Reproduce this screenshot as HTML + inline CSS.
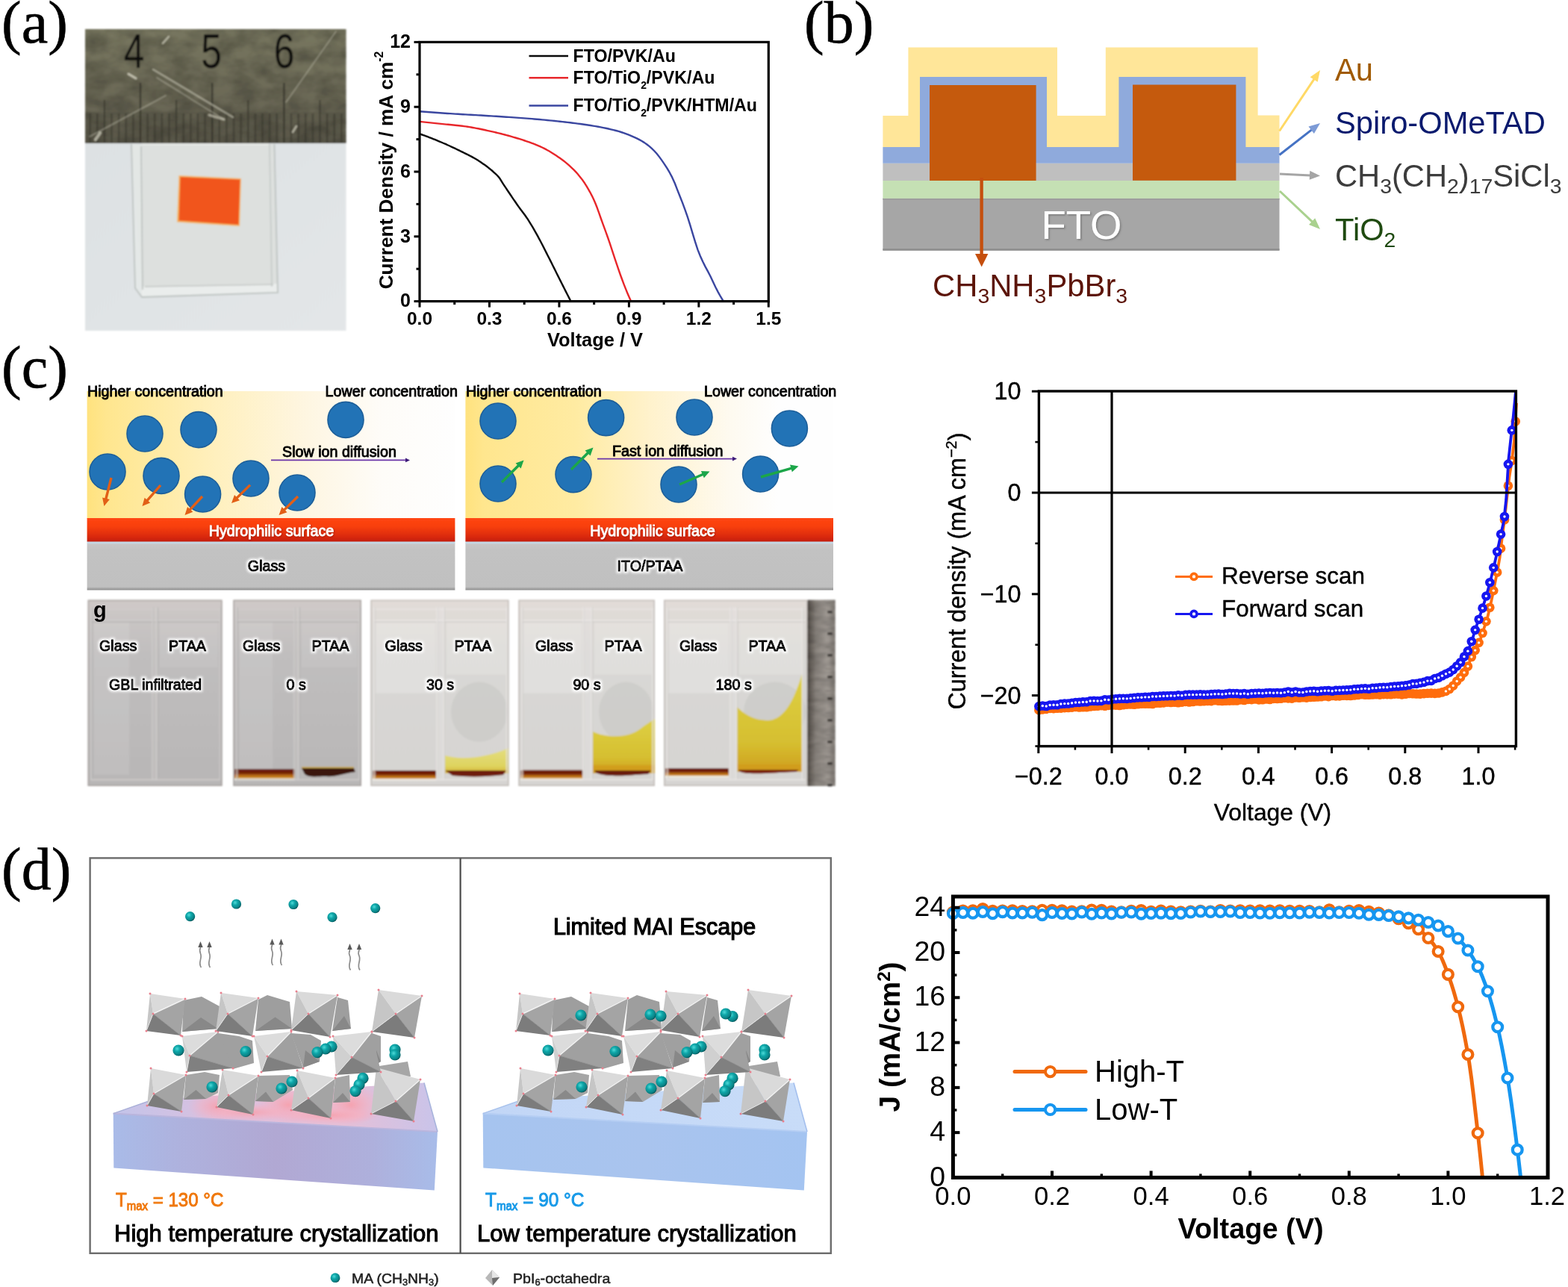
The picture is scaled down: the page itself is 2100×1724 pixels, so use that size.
<!DOCTYPE html>
<html lang="en"><head><meta charset="utf-8"><title>Figure</title>
<style>html,body{margin:0;padding:0;background:#fff}svg{display:block}text{white-space:pre}</style></head>
<body><svg width="2100" height="1724" viewBox="0 0 2100 1724">
<defs>
<filter id="blur05" x="-5%" y="-5%" width="110%" height="110%"><feGaussianBlur stdDeviation="0.6"/></filter>
<filter id="blur1" x="-5%" y="-5%" width="110%" height="110%"><feGaussianBlur stdDeviation="1"/></filter>
<filter id="blur2" x="-5%" y="-5%" width="110%" height="110%"><feGaussianBlur stdDeviation="2"/></filter>
<filter id="blur4" x="-10%" y="-10%" width="120%" height="120%"><feGaussianBlur stdDeviation="4"/></filter>
<filter id="tshadow" x="-5%" y="-30%" width="110%" height="160%"><feDropShadow dx="0.8" dy="1" stdDeviation="0.8" flood-color="#7a1000" flood-opacity="0.55"/></filter>
<filter id="thalo" x="-10%" y="-40%" width="120%" height="180%"><feMorphology in="SourceAlpha" operator="dilate" radius="1.6" result="d"/><feGaussianBlur in="d" stdDeviation="1.4" result="b"/><feFlood flood-color="#fff" flood-opacity="0.95"/><feComposite in2="b" operator="in" result="h"/><feMerge><feMergeNode in="h"/><feMergeNode in="SourceGraphic"/></feMerge></filter>
<filter id="shadowB" x="-10%" y="-20%" width="120%" height="140%"><feDropShadow dx="1.5" dy="1.5" stdDeviation="1.2" flood-color="#555" flood-opacity="0.55"/></filter>
<filter id="noiseA" x="0" y="0" width="100%" height="100%"><feTurbulence type="fractalNoise" baseFrequency="0.035 0.06" numOctaves="3" seed="4"/><feColorMatrix type="matrix" values="0 0 0 0 0  0 0 0 0 0  0 0 0 0 0  1.6 0 0 0 -0.45"/></filter>
<linearGradient id="rulerA" x1="0" y1="0" x2="0" y2="1"><stop offset="0" stop-color="#77765f"/><stop offset="0.45" stop-color="#6f6d59"/><stop offset="1" stop-color="#625f50"/></linearGradient>
<linearGradient id="paperA" x1="0" y1="0" x2="1" y2="1"><stop offset="0" stop-color="#dde1e3"/><stop offset="1" stop-color="#e3e6e8"/></linearGradient>

<linearGradient id="yelL" x1="0" y1="0" x2="1" y2="0"><stop offset="0" stop-color="#ffe27e"/><stop offset="0.05" stop-color="#ffe68e"/><stop offset="0.35" stop-color="#fff0be"/><stop offset="0.6" stop-color="#fef6e2"/><stop offset="0.8" stop-color="#fefcf8"/><stop offset="1" stop-color="#fefefe"/></linearGradient>
<linearGradient id="yelR" x1="0" y1="0" x2="1" y2="0"><stop offset="0" stop-color="#ffe27e"/><stop offset="0.05" stop-color="#ffe68e"/><stop offset="0.3" stop-color="#ffeba2"/><stop offset="0.5" stop-color="#fff2cc"/><stop offset="0.72" stop-color="#fefaf0"/><stop offset="0.85" stop-color="#fefefe"/><stop offset="1" stop-color="#fefefe"/></linearGradient>
<linearGradient id="redbar" x1="0" y1="0" x2="0" y2="1"><stop offset="0" stop-color="#ff4612"/><stop offset="0.35" stop-color="#f83f10"/><stop offset="0.8" stop-color="#d9290c"/><stop offset="1" stop-color="#c31d08"/></linearGradient>
<linearGradient id="greybar" x1="0" y1="0" x2="0" y2="1"><stop offset="0" stop-color="#c9c6c6"/><stop offset="0.15" stop-color="#c2c2c2"/><stop offset="0.93" stop-color="#c0c0c0"/><stop offset="1" stop-color="#8c8c8c"/></linearGradient>
<linearGradient id="tileDark" x1="0" y1="0" x2="0" y2="1"><stop offset="0" stop-color="#d0cac8"/><stop offset="0.12" stop-color="#c8c4c3"/><stop offset="0.3" stop-color="#c0bebe"/><stop offset="1" stop-color="#b8b6b6"/></linearGradient>
<linearGradient id="tileLight" x1="0" y1="0" x2="0" y2="1"><stop offset="0" stop-color="#e2dcd8"/><stop offset="0.12" stop-color="#dedad6"/><stop offset="0.3" stop-color="#d9d8d5"/><stop offset="1" stop-color="#d6d4d2"/></linearGradient>
<linearGradient id="liq" x1="0" y1="0" x2="0" y2="1"><stop offset="0" stop-color="#6a2008"/><stop offset="0.4" stop-color="#701f06"/><stop offset="0.65" stop-color="#b86a16"/><stop offset="1" stop-color="#d49a2a"/></linearGradient>
<linearGradient id="yelPh" x1="0" y1="0" x2="0" y2="1"><stop offset="0" stop-color="#ddd044"/><stop offset="0.7" stop-color="#d6bf30"/><stop offset="1" stop-color="#cf9e1e"/></linearGradient>
<linearGradient id="yelPh3" x1="0" y1="0" x2="0" y2="1"><stop offset="0" stop-color="#e4de7c"/><stop offset="0.7" stop-color="#dfd45a"/><stop offset="1" stop-color="#d6b42a"/></linearGradient>
<linearGradient id="rulerC" x1="0" y1="0" x2="1" y2="0"><stop offset="0" stop-color="#4e4843"/><stop offset="0.12" stop-color="#6a645e"/><stop offset="0.3" stop-color="#8a847e"/><stop offset="0.7" stop-color="#a09a94"/><stop offset="1" stop-color="#8e8882"/></linearGradient>
<filter id="noiseC" x="0" y="0" width="100%" height="100%"><feTurbulence type="fractalNoise" baseFrequency="0.05 0.12" numOctaves="2" seed="7"/><feColorMatrix type="matrix" values="0 0 0 0 0  0 0 0 0 0  0 0 0 0 0  1.4 0 0 0 -0.4"/></filter>

<radialGradient id="teal" cx="0.38" cy="0.36" r="0.7"><stop offset="0" stop-color="#4fdad8"/><stop offset="0.35" stop-color="#10a8aa"/><stop offset="0.8" stop-color="#067e82"/><stop offset="1" stop-color="#023e42"/></radialGradient>
<linearGradient id="slabL" x1="0" y1="0" x2="1" y2="0"><stop offset="0" stop-color="#a9bbe8"/><stop offset="0.2" stop-color="#aeb2de"/><stop offset="0.5" stop-color="#b1a8d3"/><stop offset="0.8" stop-color="#aeb0dc"/><stop offset="1" stop-color="#a8bce9"/></linearGradient>
<linearGradient id="slabR" x1="0" y1="0" x2="1" y2="0"><stop offset="0" stop-color="#a6c4ef"/><stop offset="0.5" stop-color="#a9c4ee"/><stop offset="1" stop-color="#a4c4f1"/></linearGradient>
<linearGradient id="topL" x1="0" y1="0" x2="1" y2="0"><stop offset="0" stop-color="#c3c4ea"/><stop offset="0.35" stop-color="#dcc0de"/><stop offset="0.7" stop-color="#e6bfd6"/><stop offset="1" stop-color="#c9c4ea"/></linearGradient>
<linearGradient id="topR" x1="0" y1="0" x2="1" y2="0"><stop offset="0" stop-color="#c2d6f6"/><stop offset="1" stop-color="#c8dcf8"/></linearGradient>
<radialGradient id="glow" cx="0.5" cy="0.5" r="0.5"><stop offset="0" stop-color="#f7a0ac" stop-opacity="0.9"/><stop offset="0.6" stop-color="#f6b0c0" stop-opacity="0.5"/><stop offset="1" stop-color="#f0b0c8" stop-opacity="0"/></radialGradient>

</defs>
<text x="2" y="57" font-family='"Liberation Serif", serif' font-size="80" fill="#000" stroke="#000" stroke-width="0.55">(a)</text><g filter="url(#blur1)"><rect x="114" y="39" width="349.5" height="153" fill="url(#rulerA)"/><rect x="114" y="39" width="349.5" height="153" fill="#000" filter="url(#noiseA)" opacity="0.26"/><rect x="114" y="192" width="349.5" height="251" fill="url(#paperA)"/><line x1="120.66" y1="152" x2="120.66" y2="192" stroke="#2b2a22" stroke-width="2.6" opacity="0.42"/><line x1="130.28" y1="152" x2="130.28" y2="192" stroke="#2b2a22" stroke-width="2.6" opacity="0.42"/><line x1="139.9" y1="134" x2="139.9" y2="192" stroke="#2b2a22" stroke-width="2" opacity="0.6"/><line x1="149.52" y1="152" x2="149.52" y2="192" stroke="#2b2a22" stroke-width="2.6" opacity="0.42"/><line x1="159.14" y1="152" x2="159.14" y2="192" stroke="#2b2a22" stroke-width="2.6" opacity="0.42"/><line x1="168.76" y1="152" x2="168.76" y2="192" stroke="#2b2a22" stroke-width="2.6" opacity="0.42"/><line x1="178.38" y1="152" x2="178.38" y2="192" stroke="#2b2a22" stroke-width="2.6" opacity="0.42"/><line x1="188" y1="111" x2="188" y2="192" stroke="#2b2a22" stroke-width="2.2" opacity="0.75"/><line x1="197.62" y1="152" x2="197.62" y2="192" stroke="#2b2a22" stroke-width="2.6" opacity="0.42"/><line x1="207.24" y1="152" x2="207.24" y2="192" stroke="#2b2a22" stroke-width="2.6" opacity="0.42"/><line x1="216.86" y1="152" x2="216.86" y2="192" stroke="#2b2a22" stroke-width="2.6" opacity="0.42"/><line x1="226.48" y1="152" x2="226.48" y2="192" stroke="#2b2a22" stroke-width="2.6" opacity="0.42"/><line x1="236.1" y1="134" x2="236.1" y2="192" stroke="#2b2a22" stroke-width="2" opacity="0.6"/><line x1="245.72" y1="152" x2="245.72" y2="192" stroke="#2b2a22" stroke-width="2.6" opacity="0.42"/><line x1="255.34" y1="152" x2="255.34" y2="192" stroke="#2b2a22" stroke-width="2.6" opacity="0.42"/><line x1="264.96" y1="152" x2="264.96" y2="192" stroke="#2b2a22" stroke-width="2.6" opacity="0.42"/><line x1="274.58" y1="152" x2="274.58" y2="192" stroke="#2b2a22" stroke-width="2.6" opacity="0.42"/><line x1="284.2" y1="111" x2="284.2" y2="192" stroke="#2b2a22" stroke-width="2.2" opacity="0.75"/><line x1="293.82" y1="152" x2="293.82" y2="192" stroke="#2b2a22" stroke-width="2.6" opacity="0.42"/><line x1="303.44" y1="152" x2="303.44" y2="192" stroke="#2b2a22" stroke-width="2.6" opacity="0.42"/><line x1="313.06" y1="152" x2="313.06" y2="192" stroke="#2b2a22" stroke-width="2.6" opacity="0.42"/><line x1="322.68" y1="152" x2="322.68" y2="192" stroke="#2b2a22" stroke-width="2.6" opacity="0.42"/><line x1="332.3" y1="134" x2="332.3" y2="192" stroke="#2b2a22" stroke-width="2" opacity="0.6"/><line x1="341.92" y1="152" x2="341.92" y2="192" stroke="#2b2a22" stroke-width="2.6" opacity="0.42"/><line x1="351.54" y1="152" x2="351.54" y2="192" stroke="#2b2a22" stroke-width="2.6" opacity="0.42"/><line x1="361.16" y1="152" x2="361.16" y2="192" stroke="#2b2a22" stroke-width="2.6" opacity="0.42"/><line x1="370.78" y1="152" x2="370.78" y2="192" stroke="#2b2a22" stroke-width="2.6" opacity="0.42"/><line x1="380.4" y1="111" x2="380.4" y2="192" stroke="#2b2a22" stroke-width="2.2" opacity="0.75"/><line x1="390.02" y1="152" x2="390.02" y2="192" stroke="#2b2a22" stroke-width="2.6" opacity="0.42"/><line x1="399.64" y1="152" x2="399.64" y2="192" stroke="#2b2a22" stroke-width="2.6" opacity="0.42"/><line x1="409.26" y1="152" x2="409.26" y2="192" stroke="#2b2a22" stroke-width="2.6" opacity="0.42"/><line x1="418.88" y1="152" x2="418.88" y2="192" stroke="#2b2a22" stroke-width="2.6" opacity="0.42"/><line x1="428.5" y1="134" x2="428.5" y2="192" stroke="#2b2a22" stroke-width="2" opacity="0.6"/><line x1="438.12" y1="152" x2="438.12" y2="192" stroke="#2b2a22" stroke-width="2.6" opacity="0.42"/><line x1="447.74" y1="152" x2="447.74" y2="192" stroke="#2b2a22" stroke-width="2.6" opacity="0.42"/><line x1="457.36" y1="152" x2="457.36" y2="192" stroke="#2b2a22" stroke-width="2.6" opacity="0.42"/><rect x="114" y="150" width="349.5" height="42" fill="#3a352a" opacity="0.18"/><line x1="205" y1="93" x2="312" y2="157" stroke="#d8d6c4" stroke-width="2.2" opacity="0.55" stroke-linecap="round"/><line x1="210" y1="104" x2="300" y2="160" stroke="#d8d6c4" stroke-width="1.5" opacity="0.4" stroke-linecap="round"/><line x1="120" y1="183" x2="222" y2="128" stroke="#d8d6c4" stroke-width="1.6" opacity="0.4" stroke-linecap="round"/><line x1="383" y1="137" x2="450" y2="42" stroke="#d8d6c4" stroke-width="1.4" opacity="0.4" stroke-linecap="round"/><line x1="172" y1="99" x2="182" y2="105" stroke="#d8d6c4" stroke-width="3" opacity="0.8" stroke-linecap="round"/><line x1="218" y1="58" x2="226" y2="49" stroke="#d8d6c4" stroke-width="2.5" opacity="0.7" stroke-linecap="round"/><line x1="392" y1="177" x2="397" y2="169" stroke="#d8d6c4" stroke-width="2.5" opacity="0.7" stroke-linecap="round"/><line x1="128" y1="187" x2="134" y2="178" stroke="#d8d6c4" stroke-width="4" opacity="0.7" stroke-linecap="round"/><line x1="280" y1="154" x2="300" y2="160" stroke="#d8d6c4" stroke-width="3" opacity="0.6" stroke-linecap="round"/><text transform="translate(179.5 91.3) scale(0.76 1)" font-family='"Liberation Sans", sans-serif' font-size="65.5" fill="#0c0c0a" text-anchor="middle">4</text><text transform="translate(283 91.3) scale(0.76 1)" font-family='"Liberation Sans", sans-serif' font-size="65.5" fill="#0c0c0a" text-anchor="middle">5</text><text transform="translate(380.5 91.3) scale(0.76 1)" font-family='"Liberation Sans", sans-serif' font-size="65.5" fill="#0c0c0a" text-anchor="middle">6</text><polygon points="176,193 367.5,193 372,392 190,398" fill="#dce0dd" opacity="0.92"/><polygon points="176,192 190,194 192,392 190,398 181,386" fill="#e6e9e8" opacity="0.7"/><polygon points="190,384 372,380 372,392 190,398" fill="#eef0ef" opacity="0.8"/><path d="M189 196 L191 388" fill="none" stroke="#b9bebc" stroke-width="1.6"/><path d="M176 193 L181 386 L190 398 L372 392 L367.5 193" fill="none" stroke="#bcc2c0" stroke-width="1.8"/><path d="M361 193 L364 384" fill="none" stroke="#c3c8c6" stroke-width="1.5"/><line x1="190" y1="193.5" x2="360" y2="193.5" stroke="#e9ebe7" stroke-width="2.2"/><path d="M194 384 L366 381" fill="none" stroke="#c2c6c4" stroke-width="1.5"/><polygon points="239.5,235 323,239 321,303 237,297.5" fill="#f3b25a"/><polygon points="241.5,237 321.5,240.5 319.5,301 239.5,295.5" fill="#f1541f"/></g><g filter="url(#blur05)"><path d="M562 179.3 L563.7 179.89 L565.4 180.5 L567.1 181.11 L568.8 181.73 L570.5 182.35 L572.2 182.99 L573.9 183.63 L575.6 184.28 L577.3 184.94 L579 185.6 L580.7 186.28 L582.4 186.96 L584.1 187.65 L585.8 188.35 L587.5 189.06 L589.2 189.78 L590.9 190.5 L592.6 191.24 L594.3 191.98 L596 192.72 L597.7 193.47 L599.4 194.23 L601.1 195 L602.8 195.77 L604.5 196.55 L606.2 197.34 L607.9 198.13 L609.6 198.93 L611.3 199.75 L613 200.56 L614.7 201.39 L616.4 202.22 L618.1 203.06 L619.8 203.9 L621.5 204.75 L623.2 205.59 L624.9 206.44 L626.6 207.29 L628.3 208.15 L630 209.03 L631.7 209.93 L633.4 210.85 L635.1 211.8 L636.8 212.78 L638.5 213.8 L640.2 214.85 L641.9 215.94 L643.6 217.06 L645.3 218.21 L647 219.39 L648.7 220.59 L650.4 221.82 L652.1 223.07 L653.8 224.36 L655.5 225.7 L657.2 227.09 L658.9 228.53 L660.6 230.03 L662.3 231.53 L664 233.08 L665.7 234.74 L667.4 236.57 L669.1 238.66 L670.8 241.34 L672.5 244.2 L674.2 246.84 L675.9 249.41 L677.6 251.94 L679.3 254.46 L681 256.98 L682.7 259.51 L684.4 262.03 L686.1 264.55 L687.8 267.05 L689.5 269.54 L691.2 272 L692.9 274.44 L694.6 276.84 L696.3 279.17 L698 281.45 L699.7 283.7 L701.4 285.97 L703.1 288.29 L704.8 290.69 L706.5 293.2 L708.2 295.83 L709.9 298.55 L711.6 301.34 L713.3 304.18 L715 307.09 L716.7 310.07 L718.4 313.1 L720.1 316.18 L721.8 319.33 L723.5 322.53 L725.2 325.78 L726.9 329.07 L728.6 332.39 L730.3 335.73 L732 339.09 L733.7 342.44 L735.4 345.79 L737.1 349.15 L738.8 352.54 L740.5 355.94 L742.2 359.36 L743.9 362.78 L745.6 366.2 L747.3 369.61 L749 373.01 L750.7 376.39 L752.4 379.76 L754.1 383.13 L755.8 386.49 L757.5 389.84 L759.2 393.19 L760.9 396.53 L762.6 399.87 L764.3 403.2" fill="none" stroke="#0a0a0a" stroke-width="2.4" stroke-linejoin="round"/><path d="M562 162.9 L564.38 163.14 L566.76 163.39 L569.13 163.63 L571.51 163.88 L573.89 164.12 L576.27 164.37 L578.65 164.62 L581.03 164.86 L583.4 165.11 L585.78 165.36 L588.16 165.61 L590.54 165.86 L592.92 166.1 L595.29 166.34 L597.67 166.57 L600.05 166.8 L602.43 167.03 L604.81 167.26 L607.18 167.49 L609.56 167.73 L611.94 167.98 L614.32 168.24 L616.7 168.52 L619.08 168.8 L621.45 169.11 L623.83 169.43 L626.21 169.78 L628.59 170.15 L630.97 170.54 L633.34 170.95 L635.72 171.38 L638.1 171.83 L640.48 172.29 L642.86 172.77 L645.24 173.26 L647.61 173.76 L649.99 174.28 L652.37 174.8 L654.75 175.32 L657.13 175.85 L659.5 176.39 L661.88 176.93 L664.26 177.48 L666.64 178.05 L669.02 178.63 L671.39 179.23 L673.77 179.84 L676.15 180.47 L678.53 181.11 L680.91 181.76 L683.29 182.43 L685.66 183.11 L688.04 183.8 L690.42 184.51 L692.8 185.24 L695.18 185.97 L697.55 186.72 L699.93 187.48 L702.31 188.26 L704.69 189.05 L707.07 189.87 L709.45 190.71 L711.82 191.57 L714.2 192.47 L716.58 193.4 L718.96 194.36 L721.34 195.37 L723.71 196.42 L726.09 197.51 L728.47 198.67 L730.85 199.91 L733.23 201.21 L735.61 202.57 L737.98 203.99 L740.36 205.46 L742.74 206.98 L745.12 208.56 L747.5 210.17 L749.87 211.82 L752.25 213.51 L754.63 215.28 L757.01 217.14 L759.39 219.09 L761.76 221.14 L764.14 223.28 L766.52 225.53 L768.9 227.9 L771.28 230.41 L773.66 233.07 L776.03 235.9 L778.41 238.9 L780.79 242.08 L783.17 245.55 L785.55 249.31 L787.92 253.32 L790.3 257.55 L792.68 262.09 L795.06 267.03 L797.44 272.44 L799.82 278.55 L802.19 285.2 L804.57 292 L806.95 298.61 L809.33 305.1 L811.71 311.63 L814.08 318.27 L816.46 325.13 L818.84 332.31 L821.22 339.6 L823.6 346.79 L825.97 353.94 L828.35 360.99 L830.73 367.74 L833.11 374.28 L835.49 380.61 L837.87 386.67 L840.24 392.44 L842.62 397.95 L845 403.2" fill="none" stroke="#e8282c" stroke-width="2.4" stroke-linejoin="round"/><path d="M562 149.3 L565.42 149.55 L568.83 149.8 L572.25 150.05 L575.67 150.3 L579.08 150.54 L582.5 150.77 L585.92 151.01 L589.33 151.24 L592.75 151.48 L596.17 151.71 L599.58 151.93 L603 152.16 L606.42 152.37 L609.84 152.59 L613.25 152.8 L616.67 153 L620.09 153.2 L623.5 153.4 L626.92 153.59 L630.34 153.78 L633.75 153.97 L637.17 154.17 L640.59 154.36 L644 154.56 L647.42 154.76 L650.84 154.97 L654.25 155.18 L657.67 155.39 L661.09 155.6 L664.5 155.81 L667.92 156.02 L671.34 156.24 L674.75 156.46 L678.17 156.68 L681.59 156.9 L685.01 157.13 L688.42 157.37 L691.84 157.6 L695.26 157.85 L698.67 158.1 L702.09 158.36 L705.51 158.62 L708.92 158.89 L712.34 159.17 L715.76 159.46 L719.17 159.75 L722.59 160.05 L726.01 160.36 L729.42 160.67 L732.84 161 L736.26 161.33 L739.67 161.67 L743.09 162.01 L746.51 162.37 L749.92 162.73 L753.34 163.1 L756.76 163.48 L760.17 163.87 L763.59 164.28 L767.01 164.69 L770.43 165.12 L773.84 165.57 L777.26 166.02 L780.68 166.49 L784.09 166.99 L787.51 167.5 L790.93 168.04 L794.34 168.6 L797.76 169.19 L801.18 169.8 L804.59 170.44 L808.01 171.1 L811.43 171.79 L814.84 172.52 L818.26 173.3 L821.68 174.13 L825.09 175.01 L828.51 175.96 L831.93 176.99 L835.34 178.11 L838.76 179.33 L842.18 180.65 L845.59 182.05 L849.01 183.55 L852.43 185.15 L855.85 186.88 L859.26 188.78 L862.68 190.87 L866.1 193.18 L869.51 195.84 L872.93 198.88 L876.35 202.25 L879.76 206 L883.18 210.38 L886.6 215.13 L890.01 220.07 L893.43 225.39 L896.85 231.2 L900.26 237.64 L903.68 245.28 L907.1 254.09 L910.51 262.78 L913.93 271.34 L917.35 280.55 L920.76 290.46 L924.18 301.14 L927.6 312.68 L931.02 323.97 L934.43 334.36 L937.85 342.96 L941.27 350.57 L944.68 357.35 L948.1 363.68 L951.52 370.23 L954.93 377.44 L958.35 384.71 L961.77 391.34 L965.18 397.48 L968.6 403.2" fill="none" stroke="#3a46a0" stroke-width="2.4" stroke-linejoin="round"/><rect x="562" y="56.4" width="467.3" height="347.2" fill="none" stroke="#000" stroke-width="3.2"/><line x1="562" y1="403.6" x2="562" y2="411.6" stroke="#000" stroke-width="3"/><line x1="608.73" y1="403.6" x2="608.73" y2="408.1" stroke="#000" stroke-width="3"/><line x1="655.46" y1="403.6" x2="655.46" y2="411.6" stroke="#000" stroke-width="3"/><line x1="702.19" y1="403.6" x2="702.19" y2="408.1" stroke="#000" stroke-width="3"/><line x1="748.92" y1="403.6" x2="748.92" y2="411.6" stroke="#000" stroke-width="3"/><line x1="795.65" y1="403.6" x2="795.65" y2="408.1" stroke="#000" stroke-width="3"/><line x1="842.38" y1="403.6" x2="842.38" y2="411.6" stroke="#000" stroke-width="3"/><line x1="889.11" y1="403.6" x2="889.11" y2="408.1" stroke="#000" stroke-width="3"/><line x1="935.84" y1="403.6" x2="935.84" y2="411.6" stroke="#000" stroke-width="3"/><line x1="982.57" y1="403.6" x2="982.57" y2="408.1" stroke="#000" stroke-width="3"/><line x1="1029.3" y1="403.6" x2="1029.3" y2="411.6" stroke="#000" stroke-width="3"/><line x1="554.5" y1="403.6" x2="562" y2="403.6" stroke="#000" stroke-width="3"/><line x1="557.5" y1="360.2" x2="562" y2="360.2" stroke="#000" stroke-width="3"/><line x1="554.5" y1="316.8" x2="562" y2="316.8" stroke="#000" stroke-width="3"/><line x1="557.5" y1="273.4" x2="562" y2="273.4" stroke="#000" stroke-width="3"/><line x1="554.5" y1="230" x2="562" y2="230" stroke="#000" stroke-width="3"/><line x1="557.5" y1="186.6" x2="562" y2="186.6" stroke="#000" stroke-width="3"/><line x1="554.5" y1="143.2" x2="562" y2="143.2" stroke="#000" stroke-width="3"/><line x1="557.5" y1="99.8" x2="562" y2="99.8" stroke="#000" stroke-width="3"/><line x1="554.5" y1="56.4" x2="562" y2="56.4" stroke="#000" stroke-width="3"/></g><text x="562" y="435" font-family='"Liberation Sans", sans-serif' font-size="24.5" font-weight="bold" fill="#000" text-anchor="middle">0.0</text><text x="655.46" y="435" font-family='"Liberation Sans", sans-serif' font-size="24.5" font-weight="bold" fill="#000" text-anchor="middle">0.3</text><text x="748.92" y="435" font-family='"Liberation Sans", sans-serif' font-size="24.5" font-weight="bold" fill="#000" text-anchor="middle">0.6</text><text x="842.38" y="435" font-family='"Liberation Sans", sans-serif' font-size="24.5" font-weight="bold" fill="#000" text-anchor="middle">0.9</text><text x="935.84" y="435" font-family='"Liberation Sans", sans-serif' font-size="24.5" font-weight="bold" fill="#000" text-anchor="middle">1.2</text><text x="1029.3" y="435" font-family='"Liberation Sans", sans-serif' font-size="24.5" font-weight="bold" fill="#000" text-anchor="middle">1.5</text><text x="550" y="411.4" font-family='"Liberation Sans", sans-serif' font-size="25" font-weight="bold" fill="#000" text-anchor="end">0</text><text x="550" y="324.6" font-family='"Liberation Sans", sans-serif' font-size="25" font-weight="bold" fill="#000" text-anchor="end">3</text><text x="550" y="237.8" font-family='"Liberation Sans", sans-serif' font-size="25" font-weight="bold" fill="#000" text-anchor="end">6</text><text x="550" y="151" font-family='"Liberation Sans", sans-serif' font-size="25" font-weight="bold" fill="#000" text-anchor="end">9</text><text x="550" y="64.2" font-family='"Liberation Sans", sans-serif' font-size="25" font-weight="bold" fill="#000" text-anchor="end">12</text><text x="797" y="463.5" font-family='"Liberation Sans", sans-serif' font-size="25.4" font-weight="bold" fill="#000" text-anchor="middle">Voltage / V</text><text transform="translate(526 228) rotate(-90)" font-family='"Liberation Sans", sans-serif' font-size="26.2" font-weight="bold" fill="#000" text-anchor="middle">Current Density / mA cm<tspan font-size="60%" dy="-0.85em">-2</tspan></text><line x1="708.5" y1="75" x2="761" y2="75" stroke="#0a0a0a" stroke-width="2.5"/><text x="767.5" y="82.7" font-family='"Liberation Sans", sans-serif' font-size="23.2" font-weight="bold" fill="#000">FTO/PVK/Au</text><line x1="708.5" y1="104.3" x2="761" y2="104.3" stroke="#e8282c" stroke-width="2.5"/><text x="767.5" y="111.7" font-family='"Liberation Sans", sans-serif' font-size="23.2" font-weight="bold" fill="#000">FTO/TiO<tspan font-size="60%" dy="0.5em">2</tspan><tspan dy="-0.3em">/PVK/Au</tspan></text><line x1="708.5" y1="141.4" x2="761" y2="141.4" stroke="#3a46a0" stroke-width="2.5"/><text x="767.5" y="149" font-family='"Liberation Sans", sans-serif' font-size="23.2" font-weight="bold" fill="#000">FTO/TiO<tspan font-size="60%" dy="0.5em">2</tspan><tspan dy="-0.3em">/PVK/HTM/Au</tspan></text>
<text x="1077" y="57" font-family='"Liberation Serif", serif' font-size="80" fill="#000" stroke="#000" stroke-width="0.55">(b)</text><g filter="url(#blur05)"><rect x="1182.4" y="265.6" width="531.1" height="70" fill="#a6a6a6"/><rect x="1182.4" y="265.6" width="531.1" height="2" fill="#9a9a9a"/><rect x="1182.4" y="333" width="531.1" height="2.6" fill="#8f8f8f"/><rect x="1182.4" y="241.8" width="531.1" height="24" fill="#c5e0b4"/><rect x="1182.4" y="218.6" width="531.1" height="23.4" fill="#bfbfbf"/><polygon points="1182.4,155 1216.4,155 1216.4,63.6 1416,63.6 1416,155 1480.8,155 1480.8,63.6 1684.6,63.6 1684.6,154.5 1713.5,154.5 1713.5,197 1182.4,197" fill="#ffe699"/><polygon points="1182.4,197 1232,197 1232,103 1402,103 1402,197 1498.4,197 1498.4,103 1668.4,103 1668.4,197 1713.5,197 1713.5,218.8 1182.4,218.8" fill="#8faadc"/><rect x="1245" y="114" width="142.6" height="128" fill="#c55a11"/><rect x="1517" y="113.5" width="138.4" height="128.3" fill="#c55a11"/><line x1="1314.6" y1="238" x2="1314.6" y2="342" stroke="#c5500f" stroke-width="4.4"/><polygon points="1306,340 1323.4,340 1314.7,357.5" fill="#c5500f"/><line x1="1713.5" y1="175.5" x2="1760.22" y2="105.64" stroke="#ffd966" stroke-width="3"/><polygon points="1768,94 1764.65,109.8 1754.67,103.13" fill="#ffd966"/><line x1="1713.5" y1="207.5" x2="1756.96" y2="173.61" stroke="#4472c4" stroke-width="3"/><polygon points="1768,165 1759.86,178.96 1752.48,169.49" fill="#7d9bd6"/><line x1="1714" y1="233" x2="1755.01" y2="234.9" stroke="#a5a5a5" stroke-width="3"/><polygon points="1768,235.5 1753.74,240.85 1754.29,228.86" fill="#a5a5a5"/><line x1="1714" y1="256" x2="1757.82" y2="297.39" stroke="#a9d18e" stroke-width="3"/><polygon points="1768,307 1752.98,301.06 1761.21,292.34" fill="#a9d18e"/></g><text x="1448.5" y="320" font-family='"Liberation Sans", sans-serif' font-size="54.5" fill="#ffffff" text-anchor="middle" filter="url(#shadowB)">FTO</text><text x="1788" y="108" font-family='"Liberation Sans", sans-serif' font-size="41.7" fill="#a05a00">Au</text><text x="1788" y="179" font-family='"Liberation Sans", sans-serif' font-size="41.7" fill="#0a1a6e">Spiro-OMeTAD</text><text x="1788" y="250" font-family='"Liberation Sans", sans-serif' font-size="41.7" fill="#3c3c3c">CH<tspan font-size="68%" dy="0.32em">3</tspan><tspan dy="-0.218em">(CH</tspan><tspan font-size="68%" dy="0.32em">2</tspan><tspan dy="-0.218em">)</tspan><tspan font-size="68%" dy="0.32em">17</tspan><tspan dy="-0.218em">SiCl</tspan><tspan font-size="68%" dy="0.32em">3</tspan></text><text x="1788" y="322" font-family='"Liberation Sans", sans-serif' font-size="41.7" fill="#1f4a10">TiO<tspan font-size="68%" dy="0.32em">2</tspan></text><text x="1249" y="397" font-family='"Liberation Sans", sans-serif' font-size="41.8" fill="#5c1408">CH<tspan font-size="68%" dy="0.32em">3</tspan><tspan dy="-0.218em">NH</tspan><tspan font-size="68%" dy="0.32em">3</tspan><tspan dy="-0.218em">PbBr</tspan><tspan font-size="68%" dy="0.32em">3</tspan></text>
<text x="2" y="519" font-family='"Liberation Serif", serif' font-size="80" fill="#000" stroke="#000" stroke-width="0.55">(c)</text><g filter="url(#blur05)"><rect x="116.6" y="524" width="492.8" height="171" fill="url(#yelL)"/><rect x="116.6" y="727.5" width="492.8" height="63" fill="url(#greybar)"/><rect x="116.6" y="724.5" width="492.8" height="4" fill="#c4d6e2"/><rect x="116.6" y="694" width="492.8" height="31.5" fill="url(#redbar)"/><rect x="623.4" y="524" width="492.6" height="171" fill="url(#yelR)"/><rect x="623.4" y="727.5" width="492.6" height="63" fill="url(#greybar)"/><rect x="623.4" y="724.5" width="492.6" height="4" fill="#c4d6e2"/><rect x="623.4" y="694" width="492.6" height="31.5" fill="url(#redbar)"/><circle cx="194" cy="581" r="24" fill="#2473b6" stroke="#1d5f9a" stroke-width="1.6"/><circle cx="266" cy="575.6" r="24" fill="#2473b6" stroke="#1d5f9a" stroke-width="1.6"/><circle cx="144" cy="632" r="24" fill="#2473b6" stroke="#1d5f9a" stroke-width="1.6"/><circle cx="216" cy="637.4" r="24" fill="#2473b6" stroke="#1d5f9a" stroke-width="1.6"/><circle cx="271.6" cy="662" r="24" fill="#2473b6" stroke="#1d5f9a" stroke-width="1.6"/><circle cx="336" cy="641" r="24" fill="#2473b6" stroke="#1d5f9a" stroke-width="1.6"/><circle cx="398" cy="660" r="24" fill="#2473b6" stroke="#1d5f9a" stroke-width="1.6"/><circle cx="463" cy="562.4" r="24" fill="#2473b6" stroke="#1d5f9a" stroke-width="1.6"/><circle cx="667" cy="564" r="24" fill="#2473b6" stroke="#1d5f9a" stroke-width="1.6"/><circle cx="667" cy="648" r="24" fill="#2473b6" stroke="#1d5f9a" stroke-width="1.6"/><circle cx="768" cy="635.6" r="24" fill="#2473b6" stroke="#1d5f9a" stroke-width="1.6"/><circle cx="811.6" cy="559.6" r="24" fill="#2473b6" stroke="#1d5f9a" stroke-width="1.6"/><circle cx="930" cy="559" r="24" fill="#2473b6" stroke="#1d5f9a" stroke-width="1.6"/><circle cx="1057.4" cy="574" r="24" fill="#2473b6" stroke="#1d5f9a" stroke-width="1.6"/><circle cx="909" cy="649" r="24" fill="#2473b6" stroke="#1d5f9a" stroke-width="1.6"/><circle cx="1018.6" cy="635" r="24" fill="#2473b6" stroke="#1d5f9a" stroke-width="1.6"/><line x1="149" y1="640" x2="141.73" y2="668.79" stroke="#e25e16" stroke-width="3.4"/><polygon points="139.4,678 137.12,666.6 146.82,669.04" fill="#e25e16"/><line x1="215" y1="650" x2="196.76" y2="670.85" stroke="#e25e16" stroke-width="3.4"/><polygon points="190.5,678 193.65,666.81 201.18,673.39" fill="#e25e16"/><line x1="271" y1="665" x2="254.01" y2="683.08" stroke="#e25e16" stroke-width="3.4"/><polygon points="247.5,690 251.05,678.92 258.33,685.77" fill="#e25e16"/><line x1="335" y1="649.6" x2="316.8" y2="667.36" stroke="#e25e16" stroke-width="3.4"/><polygon points="310,674 314.02,663.09 321.01,670.24" fill="#e25e16"/><line x1="399" y1="665" x2="380.28" y2="683.35" stroke="#e25e16" stroke-width="3.4"/><polygon points="373.5,690 377.5,679.08 384.5,686.22" fill="#e25e16"/><line x1="672" y1="646" x2="694.78" y2="623.22" stroke="#1ca64a" stroke-width="3.4"/><polygon points="701.5,616.5 697.61,627.46 690.54,620.39" fill="#1ca64a"/><line x1="765" y1="629" x2="787.78" y2="606.22" stroke="#1ca64a" stroke-width="3.4"/><polygon points="794.5,599.5 790.61,610.46 783.54,603.39" fill="#1ca64a"/><line x1="910" y1="649" x2="941.78" y2="635.27" stroke="#1ca64a" stroke-width="3.4"/><polygon points="950.5,631.5 942.84,640.25 938.88,631.08" fill="#1ca64a"/><line x1="1019" y1="639" x2="1060.37" y2="627.12" stroke="#1ca64a" stroke-width="3.4"/><polygon points="1069.5,624.5 1060.79,632.2 1058.03,622.59" fill="#1ca64a"/><line x1="363" y1="616.4" x2="546" y2="616.4" stroke="#6a35a8" stroke-width="1.6"/><polygon points="549,616.4 543,613.6 543,619.2" fill="#3c1a78"/><line x1="800" y1="614.6" x2="984" y2="614.6" stroke="#6a35a8" stroke-width="1.6"/><polygon points="987,614.6 981,611.8 981,617.4" fill="#3c1a78"/></g><text x="117" y="531" font-family='"Liberation Sans", sans-serif' font-size="19.7" fill="#000" stroke="#000" stroke-width="0.9">Higher concentration</text><text x="435.6" y="531" font-family='"Liberation Sans", sans-serif' font-size="19.7" fill="#000" stroke="#000" stroke-width="0.9">Lower concentration</text><text x="624" y="531" font-family='"Liberation Sans", sans-serif' font-size="19.7" fill="#000" stroke="#000" stroke-width="0.9">Higher concentration</text><text x="943" y="531" font-family='"Liberation Sans", sans-serif' font-size="19.7" fill="#000" stroke="#000" stroke-width="0.9">Lower concentration</text><text x="378" y="612" font-family='"Liberation Sans", sans-serif' font-size="19.7" fill="#000" stroke="#000" stroke-width="0.9">Slow ion diffusion</text><text x="820" y="611" font-family='"Liberation Sans", sans-serif' font-size="19.7" fill="#000" stroke="#000" stroke-width="0.9">Fast ion diffusion</text><text x="363.5" y="718" font-family='"Liberation Sans", sans-serif' font-size="19.7" fill="#ffffff" text-anchor="middle" stroke="#fff" stroke-width="0.8" filter="url(#tshadow)">Hydrophilic surface</text><text x="874" y="718" font-family='"Liberation Sans", sans-serif' font-size="19.7" fill="#ffffff" text-anchor="middle" stroke="#fff" stroke-width="0.8" filter="url(#tshadow)">Hydrophilic surface</text><text x="357" y="765" font-family='"Liberation Sans", sans-serif' font-size="19.7" fill="#000" text-anchor="middle" stroke="#000" stroke-width="1.3" stroke-linejoin="round" filter="url(#thalo)">Glass</text><text x="870.5" y="765" font-family='"Liberation Sans", sans-serif' font-size="19.7" fill="#000" text-anchor="middle" stroke="#000" stroke-width="1.3" stroke-linejoin="round" filter="url(#thalo)">ITO/PTAA</text><g filter="url(#blur1)"><rect x="117.6" y="803.6" width="180" height="249.4" fill="url(#tileDark)"/><rect x="125.6" y="833.6" width="47.52" height="204.4" fill="#ffffff" opacity="0.10"/><rect x="214" y="833.6" width="77.6" height="60" fill="#ffffff" opacity="0.08"/><rect x="118.4" y="804.4" width="178.4" height="247.8" fill="none" stroke="#a29c9a" stroke-width="1.6" opacity="0.8"/><rect x="312.4" y="803.6" width="171.6" height="249.4" fill="url(#tileDark)"/><rect x="320.4" y="833.6" width="44.88" height="204.4" fill="#ffffff" opacity="0.10"/><rect x="404" y="833.6" width="74" height="60" fill="#ffffff" opacity="0.08"/><rect x="313.2" y="804.4" width="170" height="247.8" fill="none" stroke="#a29c9a" stroke-width="1.6" opacity="0.8"/><rect x="496.4" y="803.6" width="185.2" height="249.4" fill="url(#tileLight)"/><rect x="502.4" y="833.6" width="80.6" height="95" fill="#ffffff" opacity="0.22"/><rect x="598" y="833.6" width="79.6" height="70" fill="#ffffff" opacity="0.18"/><ellipse cx="641.8" cy="953.6" rx="37.8" ry="40" fill="#bdbcbb" opacity="0.35"/><rect x="497.2" y="804.4" width="183.6" height="247.8" fill="none" stroke="#bdb6b2" stroke-width="1.6" opacity="0.8"/><rect x="694.4" y="803.6" width="182.6" height="249.4" fill="url(#tileLight)"/><rect x="700.4" y="833.6" width="78.6" height="95" fill="#ffffff" opacity="0.22"/><rect x="796" y="833.6" width="77" height="70" fill="#ffffff" opacity="0.18"/><ellipse cx="838.5" cy="953.6" rx="36.5" ry="40" fill="#bdbcbb" opacity="0.35"/><rect x="695.2" y="804.4" width="181" height="247.8" fill="none" stroke="#bdb6b2" stroke-width="1.6" opacity="0.8"/><rect x="889" y="803.6" width="192.5" height="249.4" fill="url(#tileLight)"/><rect x="895" y="833.6" width="81" height="95" fill="#ffffff" opacity="0.22"/><rect x="990" y="833.6" width="87.5" height="70" fill="#ffffff" opacity="0.18"/><ellipse cx="1037.75" cy="953.6" rx="41.75" ry="40" fill="#bdbcbb" opacity="0.35"/><rect x="889.8" y="804.4" width="190.9" height="247.8" fill="none" stroke="#bdb6b2" stroke-width="1.6" opacity="0.8"/><path d="M596 1012 C615 1018 650 1016 681 1002 L681 1036 L596 1036 Z" fill="url(#yelPh3)" opacity="0.95"/><path d="M794 980 C810 988 840 990 858 976 C866 970 872 966 877 963 L877 1036 L794 1036 Z" fill="url(#yelPh)"/><path d="M987 947 C998 958 1012 965 1028 965 C1046 965 1058 946 1066 926 C1070 916 1072 910 1074 903 L1074 1034 L987 1034 Z" fill="url(#yelPh)"/><rect x="314" y="1030" width="81" height="13.5" fill="url(#liq)" rx="2"/><rect x="314" y="1042.5" width="81" height="3" fill="#f3efe6" opacity="0.8"/><rect x="499" y="1032" width="85" height="12" fill="url(#liq)" rx="2"/><rect x="499" y="1043" width="85" height="3" fill="#f3efe6" opacity="0.8"/><rect x="697" y="1031.5" width="83.5" height="12" fill="url(#liq)" rx="2"/><rect x="697" y="1042.5" width="83.5" height="3" fill="#f3efe6" opacity="0.8"/><rect x="891" y="1029" width="85" height="11" fill="url(#liq)" rx="2"/><rect x="891" y="1039" width="85" height="3" fill="#f3efe6" opacity="0.8"/><path d="M404 1029 L474 1029 L476 1034 C460 1036 450 1041 436 1040 C424 1040 414 1042 408 1037 Z" fill="#3a1408"/><line x1="404" y1="1028" x2="474" y2="1028" stroke="#c9a030" stroke-width="1.6"/><path d="M596 1032 L678 1032 L674 1038 C650 1041 626 1041 606 1039 Z" fill="#6e1c08"/><path d="M796 1032 L872 1032 L868 1037 C846 1038 836 1040 820 1039 C810 1039 802 1037 798 1035 Z" fill="#6a1a08"/><path d="M989 1031 L1070 1031 L1066 1034 C1040 1035 1020 1037 1004 1036 C996 1036 992 1034 990 1033 Z" fill="#7a2208"/><rect x="794" y="1025" width="83" height="7" fill="#d29a1c" opacity="0.7"/><rect x="987" y="1024" width="86" height="7" fill="#d29a1c" opacity="0.7"/><line x1="121.6" y1="816.1" x2="294.6" y2="816.1" stroke="#d0cdcc" stroke-width="1.6" opacity="0.8"/><line x1="121.6" y1="831.1" x2="294.6" y2="831.1" stroke="#d0cdcc" stroke-width="2.2" opacity="0.9"/><line x1="121.6" y1="833.1" x2="294.6" y2="833.1" stroke="#a9a7a7" stroke-width="1.2" opacity="0.7"/><line x1="122.1" y1="813.6" x2="122.1" y2="1045" stroke="#d0cdcc" stroke-width="1.6" opacity="0.85"/><line x1="123.7" y1="813.6" x2="123.7" y2="1045" stroke="#a9a7a7" stroke-width="1.1" opacity="0.6"/><line x1="204" y1="813.6" x2="204" y2="1045" stroke="#d0cdcc" stroke-width="1.6" opacity="0.85"/><line x1="205.6" y1="813.6" x2="205.6" y2="1045" stroke="#a9a7a7" stroke-width="1.1" opacity="0.6"/><line x1="210" y1="813.6" x2="210" y2="1045" stroke="#d0cdcc" stroke-width="1.6" opacity="0.85"/><line x1="211.6" y1="813.6" x2="211.6" y2="1045" stroke="#a9a7a7" stroke-width="1.1" opacity="0.6"/><line x1="294.6" y1="813.6" x2="294.6" y2="1045" stroke="#d0cdcc" stroke-width="1.6" opacity="0.85"/><line x1="296.2" y1="813.6" x2="296.2" y2="1045" stroke="#a9a7a7" stroke-width="1.1" opacity="0.6"/><rect x="205" y="813.6" width="5" height="231.4" fill="#d0cdcc" opacity="0.35"/><line x1="121.6" y1="1044.5" x2="294.6" y2="1044.5" stroke="#d0cdcc" stroke-width="1.8" opacity="0.85"/><line x1="316.4" y1="816.1" x2="481" y2="816.1" stroke="#d0cdcc" stroke-width="1.6" opacity="0.8"/><line x1="316.4" y1="831.1" x2="481" y2="831.1" stroke="#d0cdcc" stroke-width="2.2" opacity="0.9"/><line x1="316.4" y1="833.1" x2="481" y2="833.1" stroke="#a9a7a7" stroke-width="1.2" opacity="0.7"/><line x1="316.9" y1="813.6" x2="316.9" y2="1045" stroke="#d0cdcc" stroke-width="1.6" opacity="0.85"/><line x1="318.5" y1="813.6" x2="318.5" y2="1045" stroke="#a9a7a7" stroke-width="1.1" opacity="0.6"/><line x1="394" y1="813.6" x2="394" y2="1045" stroke="#d0cdcc" stroke-width="1.6" opacity="0.85"/><line x1="395.6" y1="813.6" x2="395.6" y2="1045" stroke="#a9a7a7" stroke-width="1.1" opacity="0.6"/><line x1="400" y1="813.6" x2="400" y2="1045" stroke="#d0cdcc" stroke-width="1.6" opacity="0.85"/><line x1="401.6" y1="813.6" x2="401.6" y2="1045" stroke="#a9a7a7" stroke-width="1.1" opacity="0.6"/><line x1="481" y1="813.6" x2="481" y2="1045" stroke="#d0cdcc" stroke-width="1.6" opacity="0.85"/><line x1="482.6" y1="813.6" x2="482.6" y2="1045" stroke="#a9a7a7" stroke-width="1.1" opacity="0.6"/><rect x="395" y="813.6" width="5" height="231.4" fill="#d0cdcc" opacity="0.35"/><line x1="316.4" y1="1044.5" x2="481" y2="1044.5" stroke="#d0cdcc" stroke-width="1.8" opacity="0.85"/><line x1="500.4" y1="816.1" x2="678.6" y2="816.1" stroke="#e9e6e4" stroke-width="1.6" opacity="0.8"/><line x1="500.4" y1="831.1" x2="678.6" y2="831.1" stroke="#e9e6e4" stroke-width="2.2" opacity="0.9"/><line x1="500.4" y1="833.1" x2="678.6" y2="833.1" stroke="#c9c6c4" stroke-width="1.2" opacity="0.7"/><line x1="500.9" y1="813.6" x2="500.9" y2="1045" stroke="#e9e6e4" stroke-width="1.6" opacity="0.85"/><line x1="502.5" y1="813.6" x2="502.5" y2="1045" stroke="#c9c6c4" stroke-width="1.1" opacity="0.6"/><line x1="585" y1="813.6" x2="585" y2="1045" stroke="#e9e6e4" stroke-width="1.6" opacity="0.85"/><line x1="586.6" y1="813.6" x2="586.6" y2="1045" stroke="#c9c6c4" stroke-width="1.1" opacity="0.6"/><line x1="594" y1="813.6" x2="594" y2="1045" stroke="#e9e6e4" stroke-width="1.6" opacity="0.85"/><line x1="595.6" y1="813.6" x2="595.6" y2="1045" stroke="#c9c6c4" stroke-width="1.1" opacity="0.6"/><line x1="678.6" y1="813.6" x2="678.6" y2="1045" stroke="#e9e6e4" stroke-width="1.6" opacity="0.85"/><line x1="680.2" y1="813.6" x2="680.2" y2="1045" stroke="#c9c6c4" stroke-width="1.1" opacity="0.6"/><rect x="586" y="813.6" width="8" height="231.4" fill="#e9e6e4" opacity="0.35"/><line x1="500.4" y1="1044.5" x2="678.6" y2="1044.5" stroke="#e9e6e4" stroke-width="1.8" opacity="0.85"/><line x1="698.4" y1="816.1" x2="874" y2="816.1" stroke="#e9e6e4" stroke-width="1.6" opacity="0.8"/><line x1="698.4" y1="831.1" x2="874" y2="831.1" stroke="#e9e6e4" stroke-width="2.2" opacity="0.9"/><line x1="698.4" y1="833.1" x2="874" y2="833.1" stroke="#c9c6c4" stroke-width="1.2" opacity="0.7"/><line x1="698.9" y1="813.6" x2="698.9" y2="1045" stroke="#e9e6e4" stroke-width="1.6" opacity="0.85"/><line x1="700.5" y1="813.6" x2="700.5" y2="1045" stroke="#c9c6c4" stroke-width="1.1" opacity="0.6"/><line x1="781" y1="813.6" x2="781" y2="1045" stroke="#e9e6e4" stroke-width="1.6" opacity="0.85"/><line x1="782.6" y1="813.6" x2="782.6" y2="1045" stroke="#c9c6c4" stroke-width="1.1" opacity="0.6"/><line x1="792" y1="813.6" x2="792" y2="1045" stroke="#e9e6e4" stroke-width="1.6" opacity="0.85"/><line x1="793.6" y1="813.6" x2="793.6" y2="1045" stroke="#c9c6c4" stroke-width="1.1" opacity="0.6"/><line x1="874" y1="813.6" x2="874" y2="1045" stroke="#e9e6e4" stroke-width="1.6" opacity="0.85"/><line x1="875.6" y1="813.6" x2="875.6" y2="1045" stroke="#c9c6c4" stroke-width="1.1" opacity="0.6"/><rect x="782" y="813.6" width="10" height="231.4" fill="#e9e6e4" opacity="0.35"/><line x1="698.4" y1="1044.5" x2="874" y2="1044.5" stroke="#e9e6e4" stroke-width="1.8" opacity="0.85"/><line x1="893" y1="816.1" x2="1078.5" y2="816.1" stroke="#e9e6e4" stroke-width="1.6" opacity="0.8"/><line x1="893" y1="831.1" x2="1078.5" y2="831.1" stroke="#e9e6e4" stroke-width="2.2" opacity="0.9"/><line x1="893" y1="833.1" x2="1078.5" y2="833.1" stroke="#c9c6c4" stroke-width="1.2" opacity="0.7"/><line x1="893.5" y1="813.6" x2="893.5" y2="1045" stroke="#e9e6e4" stroke-width="1.6" opacity="0.85"/><line x1="895.1" y1="813.6" x2="895.1" y2="1045" stroke="#c9c6c4" stroke-width="1.1" opacity="0.6"/><line x1="978" y1="813.6" x2="978" y2="1045" stroke="#e9e6e4" stroke-width="1.6" opacity="0.85"/><line x1="979.6" y1="813.6" x2="979.6" y2="1045" stroke="#c9c6c4" stroke-width="1.1" opacity="0.6"/><line x1="986" y1="813.6" x2="986" y2="1045" stroke="#e9e6e4" stroke-width="1.6" opacity="0.85"/><line x1="987.6" y1="813.6" x2="987.6" y2="1045" stroke="#c9c6c4" stroke-width="1.1" opacity="0.6"/><line x1="1074.5" y1="813.6" x2="1074.5" y2="1045" stroke="#e9e6e4" stroke-width="1.6" opacity="0.85"/><line x1="1076.1" y1="813.6" x2="1076.1" y2="1045" stroke="#c9c6c4" stroke-width="1.1" opacity="0.6"/><rect x="979" y="813.6" width="7" height="231.4" fill="#e9e6e4" opacity="0.35"/><line x1="893" y1="1044.5" x2="1078.5" y2="1044.5" stroke="#e9e6e4" stroke-width="1.8" opacity="0.85"/><rect x="1081.5" y="803.6" width="37.1" height="249.4" fill="url(#rulerC)"/><rect x="1081.5" y="803.6" width="37.1" height="249.4" fill="#000" filter="url(#noiseC)" opacity="0.22"/><line x1="1105.6" y1="807.6" x2="1118.6" y2="807.6" stroke="#3c3834" stroke-width="0.9" opacity="0.35"/><line x1="1112.6" y1="810.55" x2="1118.6" y2="810.55" stroke="#3c3834" stroke-width="0.9" opacity="0.35"/><line x1="1112.6" y1="813.5" x2="1118.6" y2="813.5" stroke="#3c3834" stroke-width="0.9" opacity="0.35"/><line x1="1112.6" y1="816.45" x2="1118.6" y2="816.45" stroke="#3c3834" stroke-width="0.9" opacity="0.35"/><line x1="1112.6" y1="819.4" x2="1118.6" y2="819.4" stroke="#3c3834" stroke-width="0.9" opacity="0.35"/><line x1="1112.6" y1="822.35" x2="1118.6" y2="822.35" stroke="#3c3834" stroke-width="0.9" opacity="0.35"/><line x1="1112.6" y1="825.3" x2="1118.6" y2="825.3" stroke="#3c3834" stroke-width="0.9" opacity="0.35"/><line x1="1112.6" y1="828.25" x2="1118.6" y2="828.25" stroke="#3c3834" stroke-width="0.9" opacity="0.35"/><line x1="1112.6" y1="831.2" x2="1118.6" y2="831.2" stroke="#3c3834" stroke-width="0.9" opacity="0.35"/><line x1="1112.6" y1="834.15" x2="1118.6" y2="834.15" stroke="#3c3834" stroke-width="0.9" opacity="0.35"/><line x1="1105.6" y1="837.1" x2="1118.6" y2="837.1" stroke="#3c3834" stroke-width="0.9" opacity="0.35"/><line x1="1112.6" y1="840.05" x2="1118.6" y2="840.05" stroke="#3c3834" stroke-width="0.9" opacity="0.35"/><line x1="1112.6" y1="843" x2="1118.6" y2="843" stroke="#3c3834" stroke-width="0.9" opacity="0.35"/><line x1="1112.6" y1="845.95" x2="1118.6" y2="845.95" stroke="#3c3834" stroke-width="0.9" opacity="0.35"/><line x1="1112.6" y1="848.9" x2="1118.6" y2="848.9" stroke="#3c3834" stroke-width="0.9" opacity="0.35"/><line x1="1112.6" y1="851.85" x2="1118.6" y2="851.85" stroke="#3c3834" stroke-width="0.9" opacity="0.35"/><line x1="1112.6" y1="854.8" x2="1118.6" y2="854.8" stroke="#3c3834" stroke-width="0.9" opacity="0.35"/><line x1="1112.6" y1="857.75" x2="1118.6" y2="857.75" stroke="#3c3834" stroke-width="0.9" opacity="0.35"/><line x1="1112.6" y1="860.7" x2="1118.6" y2="860.7" stroke="#3c3834" stroke-width="0.9" opacity="0.35"/><line x1="1112.6" y1="863.65" x2="1118.6" y2="863.65" stroke="#3c3834" stroke-width="0.9" opacity="0.35"/><line x1="1105.6" y1="866.6" x2="1118.6" y2="866.6" stroke="#3c3834" stroke-width="0.9" opacity="0.35"/><line x1="1112.6" y1="869.55" x2="1118.6" y2="869.55" stroke="#3c3834" stroke-width="0.9" opacity="0.35"/><line x1="1112.6" y1="872.5" x2="1118.6" y2="872.5" stroke="#3c3834" stroke-width="0.9" opacity="0.35"/><line x1="1112.6" y1="875.45" x2="1118.6" y2="875.45" stroke="#3c3834" stroke-width="0.9" opacity="0.35"/><line x1="1112.6" y1="878.4" x2="1118.6" y2="878.4" stroke="#3c3834" stroke-width="0.9" opacity="0.35"/><line x1="1112.6" y1="881.35" x2="1118.6" y2="881.35" stroke="#3c3834" stroke-width="0.9" opacity="0.35"/><line x1="1112.6" y1="884.3" x2="1118.6" y2="884.3" stroke="#3c3834" stroke-width="0.9" opacity="0.35"/><line x1="1112.6" y1="887.25" x2="1118.6" y2="887.25" stroke="#3c3834" stroke-width="0.9" opacity="0.35"/><line x1="1112.6" y1="890.2" x2="1118.6" y2="890.2" stroke="#3c3834" stroke-width="0.9" opacity="0.35"/><line x1="1112.6" y1="893.15" x2="1118.6" y2="893.15" stroke="#3c3834" stroke-width="0.9" opacity="0.35"/><line x1="1105.6" y1="896.1" x2="1118.6" y2="896.1" stroke="#3c3834" stroke-width="0.9" opacity="0.35"/><line x1="1112.6" y1="899.05" x2="1118.6" y2="899.05" stroke="#3c3834" stroke-width="0.9" opacity="0.35"/><line x1="1112.6" y1="902" x2="1118.6" y2="902" stroke="#3c3834" stroke-width="0.9" opacity="0.35"/><line x1="1112.6" y1="904.95" x2="1118.6" y2="904.95" stroke="#3c3834" stroke-width="0.9" opacity="0.35"/><line x1="1112.6" y1="907.9" x2="1118.6" y2="907.9" stroke="#3c3834" stroke-width="0.9" opacity="0.35"/><line x1="1112.6" y1="910.85" x2="1118.6" y2="910.85" stroke="#3c3834" stroke-width="0.9" opacity="0.35"/><line x1="1112.6" y1="913.8" x2="1118.6" y2="913.8" stroke="#3c3834" stroke-width="0.9" opacity="0.35"/><line x1="1112.6" y1="916.75" x2="1118.6" y2="916.75" stroke="#3c3834" stroke-width="0.9" opacity="0.35"/><line x1="1112.6" y1="919.7" x2="1118.6" y2="919.7" stroke="#3c3834" stroke-width="0.9" opacity="0.35"/><line x1="1112.6" y1="922.65" x2="1118.6" y2="922.65" stroke="#3c3834" stroke-width="0.9" opacity="0.35"/><line x1="1105.6" y1="925.6" x2="1118.6" y2="925.6" stroke="#3c3834" stroke-width="0.9" opacity="0.35"/><line x1="1112.6" y1="928.55" x2="1118.6" y2="928.55" stroke="#3c3834" stroke-width="0.9" opacity="0.35"/><line x1="1112.6" y1="931.5" x2="1118.6" y2="931.5" stroke="#3c3834" stroke-width="0.9" opacity="0.35"/><line x1="1112.6" y1="934.45" x2="1118.6" y2="934.45" stroke="#3c3834" stroke-width="0.9" opacity="0.35"/><line x1="1112.6" y1="937.4" x2="1118.6" y2="937.4" stroke="#3c3834" stroke-width="0.9" opacity="0.35"/><line x1="1112.6" y1="940.35" x2="1118.6" y2="940.35" stroke="#3c3834" stroke-width="0.9" opacity="0.35"/><line x1="1112.6" y1="943.3" x2="1118.6" y2="943.3" stroke="#3c3834" stroke-width="0.9" opacity="0.35"/><line x1="1112.6" y1="946.25" x2="1118.6" y2="946.25" stroke="#3c3834" stroke-width="0.9" opacity="0.35"/><line x1="1112.6" y1="949.2" x2="1118.6" y2="949.2" stroke="#3c3834" stroke-width="0.9" opacity="0.35"/><line x1="1112.6" y1="952.15" x2="1118.6" y2="952.15" stroke="#3c3834" stroke-width="0.9" opacity="0.35"/><line x1="1105.6" y1="955.1" x2="1118.6" y2="955.1" stroke="#3c3834" stroke-width="0.9" opacity="0.35"/><line x1="1112.6" y1="958.05" x2="1118.6" y2="958.05" stroke="#3c3834" stroke-width="0.9" opacity="0.35"/><line x1="1112.6" y1="961" x2="1118.6" y2="961" stroke="#3c3834" stroke-width="0.9" opacity="0.35"/><line x1="1112.6" y1="963.95" x2="1118.6" y2="963.95" stroke="#3c3834" stroke-width="0.9" opacity="0.35"/><line x1="1112.6" y1="966.9" x2="1118.6" y2="966.9" stroke="#3c3834" stroke-width="0.9" opacity="0.35"/><line x1="1112.6" y1="969.85" x2="1118.6" y2="969.85" stroke="#3c3834" stroke-width="0.9" opacity="0.35"/><line x1="1112.6" y1="972.8" x2="1118.6" y2="972.8" stroke="#3c3834" stroke-width="0.9" opacity="0.35"/><line x1="1112.6" y1="975.75" x2="1118.6" y2="975.75" stroke="#3c3834" stroke-width="0.9" opacity="0.35"/><line x1="1112.6" y1="978.7" x2="1118.6" y2="978.7" stroke="#3c3834" stroke-width="0.9" opacity="0.35"/><line x1="1112.6" y1="981.65" x2="1118.6" y2="981.65" stroke="#3c3834" stroke-width="0.9" opacity="0.35"/><line x1="1105.6" y1="984.6" x2="1118.6" y2="984.6" stroke="#3c3834" stroke-width="0.9" opacity="0.35"/><line x1="1112.6" y1="987.55" x2="1118.6" y2="987.55" stroke="#3c3834" stroke-width="0.9" opacity="0.35"/><line x1="1112.6" y1="990.5" x2="1118.6" y2="990.5" stroke="#3c3834" stroke-width="0.9" opacity="0.35"/><line x1="1112.6" y1="993.45" x2="1118.6" y2="993.45" stroke="#3c3834" stroke-width="0.9" opacity="0.35"/><line x1="1112.6" y1="996.4" x2="1118.6" y2="996.4" stroke="#3c3834" stroke-width="0.9" opacity="0.35"/><line x1="1112.6" y1="999.35" x2="1118.6" y2="999.35" stroke="#3c3834" stroke-width="0.9" opacity="0.35"/><line x1="1112.6" y1="1002.3" x2="1118.6" y2="1002.3" stroke="#3c3834" stroke-width="0.9" opacity="0.35"/><line x1="1112.6" y1="1005.25" x2="1118.6" y2="1005.25" stroke="#3c3834" stroke-width="0.9" opacity="0.35"/><line x1="1112.6" y1="1008.2" x2="1118.6" y2="1008.2" stroke="#3c3834" stroke-width="0.9" opacity="0.35"/><line x1="1112.6" y1="1011.15" x2="1118.6" y2="1011.15" stroke="#3c3834" stroke-width="0.9" opacity="0.35"/><line x1="1105.6" y1="1014.1" x2="1118.6" y2="1014.1" stroke="#3c3834" stroke-width="0.9" opacity="0.35"/><line x1="1112.6" y1="1017.05" x2="1118.6" y2="1017.05" stroke="#3c3834" stroke-width="0.9" opacity="0.35"/><line x1="1112.6" y1="1020" x2="1118.6" y2="1020" stroke="#3c3834" stroke-width="0.9" opacity="0.35"/><line x1="1112.6" y1="1022.95" x2="1118.6" y2="1022.95" stroke="#3c3834" stroke-width="0.9" opacity="0.35"/><line x1="1112.6" y1="1025.9" x2="1118.6" y2="1025.9" stroke="#3c3834" stroke-width="0.9" opacity="0.35"/><line x1="1112.6" y1="1028.85" x2="1118.6" y2="1028.85" stroke="#3c3834" stroke-width="0.9" opacity="0.35"/><line x1="1112.6" y1="1031.8" x2="1118.6" y2="1031.8" stroke="#3c3834" stroke-width="0.9" opacity="0.35"/><line x1="1112.6" y1="1034.75" x2="1118.6" y2="1034.75" stroke="#3c3834" stroke-width="0.9" opacity="0.35"/><line x1="1112.6" y1="1037.7" x2="1118.6" y2="1037.7" stroke="#3c3834" stroke-width="0.9" opacity="0.35"/><line x1="1112.6" y1="1040.65" x2="1118.6" y2="1040.65" stroke="#3c3834" stroke-width="0.9" opacity="0.35"/><line x1="1105.6" y1="1043.6" x2="1118.6" y2="1043.6" stroke="#3c3834" stroke-width="0.9" opacity="0.35"/><line x1="1112.6" y1="1046.55" x2="1118.6" y2="1046.55" stroke="#3c3834" stroke-width="0.9" opacity="0.35"/><line x1="1112.6" y1="1049.5" x2="1118.6" y2="1049.5" stroke="#3c3834" stroke-width="0.9" opacity="0.35"/><rect x="1108" y="818" width="7" height="3.6" fill="#1f1c1a" opacity="0.7" rx="1.5"/><rect x="1108" y="847" width="7" height="3.6" fill="#1f1c1a" opacity="0.7" rx="1.5"/><rect x="1108" y="876" width="7" height="3.6" fill="#1f1c1a" opacity="0.7" rx="1.5"/><rect x="1108" y="905" width="7" height="3.6" fill="#1f1c1a" opacity="0.7" rx="1.5"/><rect x="1108" y="934" width="7" height="3.6" fill="#1f1c1a" opacity="0.7" rx="1.5"/><rect x="1108" y="963" width="7" height="3.6" fill="#1f1c1a" opacity="0.7" rx="1.5"/><rect x="1108" y="992" width="7" height="3.6" fill="#1f1c1a" opacity="0.7" rx="1.5"/><rect x="1108" y="1021" width="7" height="3.6" fill="#1f1c1a" opacity="0.7" rx="1.5"/><rect x="1108" y="1050" width="7" height="3.6" fill="#1f1c1a" opacity="0.7" rx="1.5"/></g><text x="125" y="827" font-family='"Liberation Sans", sans-serif' font-size="29" font-weight="bold" fill="#000">g</text><text x="133" y="871.6" font-family='"Liberation Sans", sans-serif' font-size="19.7" fill="#000" stroke="#000" stroke-width="1.3" stroke-linejoin="round" filter="url(#thalo)">Glass</text><text x="226" y="871.6" font-family='"Liberation Sans", sans-serif' font-size="19.7" fill="#000" stroke="#000" stroke-width="1.3" stroke-linejoin="round" filter="url(#thalo)">PTAA</text><text x="146" y="923.6" font-family='"Liberation Sans", sans-serif' font-size="19.7" fill="#000" stroke="#000" stroke-width="1.3" stroke-linejoin="round" filter="url(#thalo)">GBL infiltrated</text><text x="325" y="871.6" font-family='"Liberation Sans", sans-serif' font-size="19.7" fill="#000" stroke="#000" stroke-width="1.3" stroke-linejoin="round" filter="url(#thalo)">Glass</text><text x="417.6" y="871.6" font-family='"Liberation Sans", sans-serif' font-size="19.7" fill="#000" stroke="#000" stroke-width="1.3" stroke-linejoin="round" filter="url(#thalo)">PTAA</text><text x="383.6" y="923.6" font-family='"Liberation Sans", sans-serif' font-size="19.7" fill="#000" stroke="#000" stroke-width="1.3" stroke-linejoin="round" filter="url(#thalo)">0 s</text><text x="515.6" y="871.6" font-family='"Liberation Sans", sans-serif' font-size="19.7" fill="#000" stroke="#000" stroke-width="1.3" stroke-linejoin="round" filter="url(#thalo)">Glass</text><text x="608.4" y="871.6" font-family='"Liberation Sans", sans-serif' font-size="19.7" fill="#000" stroke="#000" stroke-width="1.3" stroke-linejoin="round" filter="url(#thalo)">PTAA</text><text x="571" y="923.6" font-family='"Liberation Sans", sans-serif' font-size="19.7" fill="#000" stroke="#000" stroke-width="1.3" stroke-linejoin="round" filter="url(#thalo)">30 s</text><text x="717" y="871.6" font-family='"Liberation Sans", sans-serif' font-size="19.7" fill="#000" stroke="#000" stroke-width="1.3" stroke-linejoin="round" filter="url(#thalo)">Glass</text><text x="809.6" y="871.6" font-family='"Liberation Sans", sans-serif' font-size="19.7" fill="#000" stroke="#000" stroke-width="1.3" stroke-linejoin="round" filter="url(#thalo)">PTAA</text><text x="767.4" y="923.6" font-family='"Liberation Sans", sans-serif' font-size="19.7" fill="#000" stroke="#000" stroke-width="1.3" stroke-linejoin="round" filter="url(#thalo)">90 s</text><text x="910" y="871.6" font-family='"Liberation Sans", sans-serif' font-size="19.7" fill="#000" stroke="#000" stroke-width="1.3" stroke-linejoin="round" filter="url(#thalo)">Glass</text><text x="1002.4" y="871.6" font-family='"Liberation Sans", sans-serif' font-size="19.7" fill="#000" stroke="#000" stroke-width="1.3" stroke-linejoin="round" filter="url(#thalo)">PTAA</text><text x="958.6" y="923.6" font-family='"Liberation Sans", sans-serif' font-size="19.7" fill="#000" stroke="#000" stroke-width="1.3" stroke-linejoin="round" filter="url(#thalo)">180 s</text><g filter="url(#blur05)"><path d="M1391.4 950.5 L1394.61 950.29 L1397.83 950.07 L1401.04 949.86 L1404.26 949.65 L1407.47 949.45 L1410.68 949.25 L1413.9 949.04 L1417.11 948.84 L1420.33 948.65 L1423.54 948.45 L1426.75 948.26 L1429.97 948.07 L1433.18 947.89 L1436.4 947.7 L1439.61 947.52 L1442.83 947.34 L1446.04 947.17 L1449.25 947 L1452.47 946.83 L1455.68 946.66 L1458.9 946.5 L1462.11 946.33 L1465.32 946.17 L1468.54 946.01 L1471.75 945.85 L1474.97 945.69 L1478.18 945.54 L1481.39 945.38 L1484.61 945.22 L1487.82 945.06 L1491.04 944.9 L1494.25 944.74 L1497.46 944.58 L1500.68 944.41 L1503.89 944.25 L1507.11 944.09 L1510.32 943.93 L1513.53 943.77 L1516.75 943.61 L1519.96 943.45 L1523.18 943.29 L1526.39 943.14 L1529.61 942.98 L1532.82 942.83 L1536.03 942.68 L1539.25 942.53 L1542.46 942.39 L1545.68 942.24 L1548.89 942.1 L1552.1 941.96 L1555.32 941.82 L1558.53 941.68 L1561.75 941.54 L1564.96 941.41 L1568.17 941.27 L1571.39 941.14 L1574.6 941 L1577.82 940.87 L1581.03 940.74 L1584.24 940.61 L1587.46 940.48 L1590.67 940.35 L1593.89 940.23 L1597.1 940.1 L1600.31 939.97 L1603.53 939.85 L1606.74 939.72 L1609.96 939.6 L1613.17 939.48 L1616.38 939.36 L1619.6 939.24 L1622.81 939.12 L1626.03 939 L1629.24 938.88 L1632.46 938.77 L1635.67 938.65 L1638.88 938.54 L1642.1 938.43 L1645.31 938.32 L1648.53 938.22 L1651.74 938.11 L1654.95 938.01 L1658.17 937.92 L1661.38 937.82 L1664.6 937.72 L1667.81 937.62 L1671.02 937.52 L1674.24 937.41 L1677.45 937.31 L1680.67 937.2 L1683.88 937.08 L1687.09 936.96 L1690.31 936.83 L1693.52 936.7 L1696.74 936.56 L1699.95 936.42 L1703.16 936.27 L1706.38 936.12 L1709.59 935.97 L1712.81 935.81 L1716.02 935.66 L1719.24 935.5 L1722.45 935.34 L1725.66 935.18 L1728.88 935.03 L1732.09 934.87 L1735.31 934.72 L1738.52 934.57 L1741.73 934.42 L1744.95 934.27 L1748.16 934.12 L1751.38 933.96 L1754.59 933.81 L1757.8 933.66 L1761.02 933.5 L1764.23 933.35 L1767.45 933.2 L1770.66 933.06 L1773.87 932.91 L1777.09 932.78 L1780.3 932.64 L1783.52 932.52 L1786.73 932.4 L1789.94 932.28 L1793.16 932.17 L1796.37 932.06 L1799.59 931.95 L1802.8 931.84 L1806.02 931.74 L1809.23 931.64 L1812.44 931.53 L1815.66 931.44 L1818.87 931.34 L1822.09 931.24 L1825.3 931.14 L1828.51 931.05 L1831.73 930.95 L1834.94 930.85 L1838.16 930.75 L1841.37 930.65 L1844.58 930.55 L1847.8 930.45 L1851.01 930.36 L1854.23 930.26 L1857.44 930.17 L1860.65 930.07 L1863.87 929.98 L1867.08 929.89 L1870.3 929.81 L1873.51 929.72 L1876.72 929.65 L1879.94 929.57 L1883.15 929.5 L1886.37 929.43 L1889.58 929.37 L1892.79 929.32 L1896.01 929.27 L1899.22 929.21 L1902.44 929.16 L1905.65 929.1 L1908.87 929.03 L1912.08 928.95 L1915.29 928.87 L1918.51 928.78 L1921.72 928.66 L1924.94 928.5 L1928.15 928.19 L1931.36 927.63 L1934.58 926.73 L1937.79 925.25 L1941.01 923.33 L1944.22 920.44 L1947.43 916.89 L1950.65 913.29 L1953.86 909.72 L1957.08 905.89 L1960.29 901.59 L1963.5 896.62 L1966.72 890.4 L1969.93 882.15 L1973.15 875.54 L1976.36 869.29 L1979.57 863.19 L1982.79 856 L1986 846.35 L1989.22 836.29 L1992.43 826.05 L1995.65 812.95 L1998.86 797.9 L2002.07 781.74 L2005.29 765.87 L2008.5 747.54 L2011.72 720.28 L2014.93 696.46 L2018.14 667.61 L2021.36 639.55 L2024.57 618.77 L2027.79 592.3 L2031 540" fill="none" stroke="#ff6d0a" stroke-width="3.8" stroke-linejoin="round"/><g fill="#ff6d0a"><circle cx="1391.4" cy="951.13" r="6.3"/><circle cx="1396.31" cy="950.33" r="6.3"/><circle cx="1401.22" cy="949.88" r="6.3"/><circle cx="1406.13" cy="948.88" r="6.3"/><circle cx="1411.04" cy="949.13" r="6.3"/><circle cx="1415.95" cy="948.79" r="6.3"/><circle cx="1420.86" cy="948.59" r="6.3"/><circle cx="1425.77" cy="948.1" r="6.3"/><circle cx="1430.68" cy="948.02" r="6.3"/><circle cx="1435.59" cy="947.58" r="6.3"/><circle cx="1440.5" cy="947.01" r="6.3"/><circle cx="1445.41" cy="947.51" r="6.3"/><circle cx="1450.32" cy="947.25" r="6.3"/><circle cx="1455.23" cy="947.28" r="6.3"/><circle cx="1460.14" cy="946.45" r="6.3"/><circle cx="1465.05" cy="946.04" r="6.3"/><circle cx="1469.96" cy="945.75" r="6.3"/><circle cx="1474.87" cy="945.16" r="6.3"/><circle cx="1479.78" cy="945.8" r="6.3"/><circle cx="1484.69" cy="944.83" r="6.3"/><circle cx="1489.6" cy="944.56" r="6.3"/><circle cx="1494.51" cy="944.65" r="6.3"/><circle cx="1499.42" cy="945" r="6.3"/><circle cx="1504.33" cy="944.31" r="6.3"/><circle cx="1509.24" cy="943.63" r="6.3"/><circle cx="1514.15" cy="943.49" r="6.3"/><circle cx="1519.06" cy="943.71" r="6.3"/><circle cx="1523.97" cy="943.2" r="6.3"/><circle cx="1528.88" cy="942.75" r="6.3"/><circle cx="1533.79" cy="942.71" r="6.3"/><circle cx="1538.7" cy="942.82" r="6.3"/><circle cx="1543.61" cy="943.03" r="6.3"/><circle cx="1548.52" cy="941.68" r="6.3"/><circle cx="1553.43" cy="941.68" r="6.3"/><circle cx="1558.34" cy="941.41" r="6.3"/><circle cx="1563.25" cy="940.63" r="6.3"/><circle cx="1568.16" cy="940.95" r="6.3"/><circle cx="1573.07" cy="940.71" r="6.3"/><circle cx="1577.98" cy="941.26" r="6.3"/><circle cx="1582.89" cy="940.62" r="6.3"/><circle cx="1587.8" cy="939.9" r="6.3"/><circle cx="1592.71" cy="940.5" r="6.3"/><circle cx="1597.62" cy="939.95" r="6.3"/><circle cx="1602.53" cy="939.28" r="6.3"/><circle cx="1607.44" cy="939.49" r="6.3"/><circle cx="1612.35" cy="939.3" r="6.3"/><circle cx="1617.26" cy="939.02" r="6.3"/><circle cx="1622.17" cy="939.15" r="6.3"/><circle cx="1627.08" cy="938.17" r="6.3"/><circle cx="1631.99" cy="938.69" r="6.3"/><circle cx="1636.9" cy="938.96" r="6.3"/><circle cx="1641.81" cy="938.74" r="6.3"/><circle cx="1646.72" cy="938.66" r="6.3"/><circle cx="1651.63" cy="938.51" r="6.3"/><circle cx="1656.54" cy="938.49" r="6.3"/><circle cx="1661.45" cy="937.42" r="6.3"/><circle cx="1666.36" cy="937.96" r="6.3"/><circle cx="1671.27" cy="936.86" r="6.3"/><circle cx="1676.18" cy="937.14" r="6.3"/><circle cx="1681.09" cy="936.51" r="6.3"/><circle cx="1686" cy="937.37" r="6.3"/><circle cx="1690.91" cy="937.27" r="6.3"/><circle cx="1695.82" cy="936.53" r="6.3"/><circle cx="1700.73" cy="937" r="6.3"/><circle cx="1705.64" cy="935.92" r="6.3"/><circle cx="1710.55" cy="935.97" r="6.3"/><circle cx="1715.46" cy="935.74" r="6.3"/><circle cx="1720.37" cy="935.07" r="6.3"/><circle cx="1725.28" cy="935.36" r="6.3"/><circle cx="1730.19" cy="935.64" r="6.3"/><circle cx="1735.1" cy="934.37" r="6.3"/><circle cx="1740.01" cy="934.81" r="6.3"/><circle cx="1744.92" cy="934.22" r="6.3"/><circle cx="1749.83" cy="934.66" r="6.3"/><circle cx="1754.74" cy="933.97" r="6.3"/><circle cx="1759.65" cy="933.8" r="6.3"/><circle cx="1764.56" cy="933.56" r="6.3"/><circle cx="1769.47" cy="933.2" r="6.3"/><circle cx="1774.38" cy="932.4" r="6.3"/><circle cx="1779.29" cy="933.17" r="6.3"/><circle cx="1784.2" cy="932.01" r="6.3"/><circle cx="1789.11" cy="932.39" r="6.3"/><circle cx="1794.02" cy="932.35" r="6.3"/><circle cx="1798.93" cy="931.68" r="6.3"/><circle cx="1803.84" cy="931.86" r="6.3"/><circle cx="1808.75" cy="932.06" r="6.3"/><circle cx="1813.66" cy="931.49" r="6.3"/><circle cx="1818.57" cy="931.04" r="6.3"/><circle cx="1823.48" cy="930.18" r="6.3"/><circle cx="1828.39" cy="930.71" r="6.3"/><circle cx="1833.3" cy="930.69" r="6.3"/><circle cx="1838.21" cy="930.57" r="6.3"/><circle cx="1843.12" cy="930.26" r="6.3"/><circle cx="1848.03" cy="930.58" r="6.3"/><circle cx="1852.94" cy="930.1" r="6.3"/><circle cx="1857.85" cy="930.12" r="6.3"/><circle cx="1862.76" cy="930.25" r="6.3"/><circle cx="1867.67" cy="929.58" r="6.3"/><circle cx="1872.58" cy="929.64" r="6.3"/><circle cx="1877.49" cy="930.38" r="6.3"/><circle cx="1882.4" cy="929.82" r="6.3"/><circle cx="1887.31" cy="928.96" r="6.3"/><circle cx="1892.22" cy="929.3" r="6.3"/><circle cx="1897.13" cy="929.45" r="6.3"/><circle cx="1902.04" cy="929.6" r="6.3"/><circle cx="1906.95" cy="929.12" r="6.3"/><circle cx="1911.86" cy="928.77" r="6.3"/><circle cx="1916.77" cy="928.58" r="6.3"/><circle cx="1921.68" cy="928.89" r="6.3"/><circle cx="1926.59" cy="928.48" r="6.3"/><circle cx="1931.5" cy="927.42" r="6.3"/><circle cx="1936.41" cy="925.88" r="6.3"/><circle cx="1941.32" cy="922.95" r="6.3"/><circle cx="1946.23" cy="918.51" r="6.3"/><circle cx="1951.14" cy="912.51" r="6.3"/><circle cx="1956.05" cy="907.32" r="6.3"/><circle cx="1960.96" cy="900.92" r="6.3"/><circle cx="1965.87" cy="892.43" r="6.3"/><circle cx="1970.78" cy="880.01" r="6.3"/><circle cx="1975.69" cy="871.09" r="6.3"/><circle cx="1980.6" cy="860.89" r="6.3"/><circle cx="1985.51" cy="848.07" r="6.3"/><circle cx="1990.42" cy="832.36" r="6.3"/><circle cx="1995.33" cy="813.76" r="6.3"/><circle cx="2000.24" cy="791.15" r="6.3"/><circle cx="2005.15" cy="766.64" r="6.3"/><circle cx="2010.06" cy="734.66" r="6.3"/><circle cx="2014.97" cy="696.25" r="6.3"/><circle cx="2019.88" cy="650.8" r="6.3"/><circle cx="2024.79" cy="617.05" r="6.3"/><circle cx="2029.7" cy="564.47" r="6.3"/></g><g fill="#fff"><circle cx="1936.41" cy="925.88" r="1.7"/><circle cx="1941.32" cy="922.95" r="1.7"/><circle cx="1946.23" cy="918.51" r="1.7"/><circle cx="1951.14" cy="912.51" r="1.7"/><circle cx="1956.05" cy="907.32" r="1.7"/><circle cx="1960.96" cy="900.92" r="1.7"/><circle cx="1965.87" cy="892.43" r="1.7"/><circle cx="1970.78" cy="880.01" r="1.7"/><circle cx="1975.69" cy="871.09" r="1.7"/><circle cx="1980.6" cy="860.89" r="1.7"/><circle cx="1985.51" cy="848.07" r="1.7"/><circle cx="1990.42" cy="832.36" r="1.7"/><circle cx="1995.33" cy="813.76" r="1.7"/><circle cx="2000.24" cy="791.15" r="1.7"/><circle cx="2005.15" cy="766.64" r="1.7"/><circle cx="2010.06" cy="734.66" r="1.7"/><circle cx="2014.97" cy="696.25" r="1.7"/><circle cx="2019.88" cy="650.8" r="1.7"/><circle cx="2024.79" cy="617.05" r="1.7"/><circle cx="2029.7" cy="564.47" r="1.7"/></g><path d="M1391.4 946 L1394.61 945.7 L1397.82 945.4 L1401.03 945.11 L1404.24 944.81 L1407.45 944.51 L1410.65 944.21 L1413.86 943.92 L1417.07 943.62 L1420.28 943.32 L1423.49 943.02 L1426.7 942.73 L1429.91 942.43 L1433.12 942.14 L1436.33 941.84 L1439.54 941.54 L1442.74 941.25 L1445.95 940.94 L1449.16 940.64 L1452.37 940.33 L1455.58 940.02 L1458.79 939.71 L1462 939.41 L1465.21 939.1 L1468.42 938.8 L1471.63 938.5 L1474.84 938.21 L1478.04 937.92 L1481.25 937.64 L1484.46 937.37 L1487.67 937.11 L1490.88 936.85 L1494.09 936.61 L1497.3 936.36 L1500.51 936.12 L1503.72 935.89 L1506.93 935.66 L1510.13 935.43 L1513.34 935.21 L1516.55 934.99 L1519.76 934.78 L1522.97 934.56 L1526.18 934.36 L1529.39 934.15 L1532.6 933.95 L1535.81 933.75 L1539.02 933.56 L1542.23 933.37 L1545.43 933.17 L1548.64 932.98 L1551.85 932.79 L1555.06 932.6 L1558.27 932.41 L1561.48 932.23 L1564.69 932.05 L1567.9 931.88 L1571.11 931.71 L1574.32 931.55 L1577.52 931.4 L1580.73 931.25 L1583.94 931.12 L1587.15 930.99 L1590.36 930.88 L1593.57 930.77 L1596.78 930.66 L1599.99 930.55 L1603.2 930.45 L1606.41 930.36 L1609.62 930.26 L1612.82 930.17 L1616.03 930.09 L1619.24 930 L1622.45 929.92 L1625.66 929.84 L1628.87 929.76 L1632.08 929.69 L1635.29 929.61 L1638.5 929.53 L1641.71 929.46 L1644.91 929.39 L1648.12 929.33 L1651.33 929.26 L1654.54 929.2 L1657.75 929.15 L1660.96 929.09 L1664.17 929.03 L1667.38 928.97 L1670.59 928.92 L1673.8 928.86 L1677.01 928.79 L1680.21 928.73 L1683.42 928.66 L1686.63 928.59 L1689.84 928.51 L1693.05 928.43 L1696.26 928.35 L1699.47 928.26 L1702.68 928.18 L1705.89 928.09 L1709.1 928 L1712.3 927.91 L1715.51 927.81 L1718.72 927.71 L1721.93 927.61 L1725.14 927.51 L1728.35 927.4 L1731.56 927.3 L1734.77 927.19 L1737.98 927.07 L1741.19 926.96 L1744.39 926.84 L1747.6 926.71 L1750.81 926.57 L1754.02 926.44 L1757.23 926.29 L1760.44 926.15 L1763.65 926 L1766.86 925.84 L1770.07 925.69 L1773.28 925.53 L1776.49 925.37 L1779.69 925.21 L1782.9 925.05 L1786.11 924.9 L1789.32 924.74 L1792.53 924.58 L1795.74 924.42 L1798.95 924.26 L1802.16 924.1 L1805.37 923.93 L1808.58 923.76 L1811.78 923.59 L1814.99 923.41 L1818.2 923.23 L1821.41 923.04 L1824.62 922.84 L1827.83 922.64 L1831.04 922.43 L1834.25 922.22 L1837.46 922 L1840.67 921.79 L1843.88 921.56 L1847.08 921.34 L1850.29 921.1 L1853.5 920.86 L1856.71 920.6 L1859.92 920.34 L1863.13 920.06 L1866.34 919.77 L1869.55 919.47 L1872.76 919.15 L1875.97 918.81 L1879.17 918.45 L1882.38 918.07 L1885.59 917.66 L1888.8 917.18 L1892.01 916.63 L1895.22 916.03 L1898.43 915.4 L1901.64 914.73 L1904.85 914.03 L1908.06 913.31 L1911.27 912.52 L1914.47 911.67 L1917.68 910.73 L1920.89 909.7 L1924.1 908.5 L1927.31 907.14 L1930.52 905.69 L1933.73 904.19 L1936.94 902.64 L1940.15 900.96 L1943.36 899.08 L1946.56 896.89 L1949.77 894.33 L1952.98 891.26 L1956.19 887.38 L1959.4 881.98 L1962.61 876.99 L1965.82 871.44 L1969.03 864.45 L1972.24 855.19 L1975.45 844.63 L1978.66 835.01 L1981.86 825.45 L1985.07 815.77 L1988.28 805.68 L1991.49 794.85 L1994.7 783.13 L1997.91 770.6 L2001.12 757.26 L2004.33 743.07 L2007.54 727.99 L2010.75 712.58 L2013.95 698.64 L2017.16 669.08 L2020.37 615.68 L2023.58 586.12 L2026.79 557.45 L2030 524" fill="none" stroke="#1414f0" stroke-width="3.8" stroke-linejoin="round"/><g fill="#1414f0"><circle cx="1391.4" cy="946.15" r="6.3"/><circle cx="1396.31" cy="945.43" r="6.3"/><circle cx="1401.22" cy="945.94" r="6.3"/><circle cx="1406.13" cy="944.54" r="6.3"/><circle cx="1411.04" cy="944.22" r="6.3"/><circle cx="1415.95" cy="944.28" r="6.3"/><circle cx="1420.86" cy="942.95" r="6.3"/><circle cx="1425.77" cy="942.61" r="6.3"/><circle cx="1430.68" cy="942.43" r="6.3"/><circle cx="1435.59" cy="941.79" r="6.3"/><circle cx="1440.5" cy="941.04" r="6.3"/><circle cx="1445.41" cy="940.92" r="6.3"/><circle cx="1450.32" cy="940.4" r="6.3"/><circle cx="1455.23" cy="940.27" r="6.3"/><circle cx="1460.14" cy="939" r="6.3"/><circle cx="1465.05" cy="938.87" r="6.3"/><circle cx="1469.96" cy="939.06" r="6.3"/><circle cx="1474.87" cy="938.85" r="6.3"/><circle cx="1479.78" cy="937.24" r="6.3"/><circle cx="1484.69" cy="937.57" r="6.3"/><circle cx="1489.6" cy="936.61" r="6.3"/><circle cx="1494.51" cy="936.27" r="6.3"/><circle cx="1499.42" cy="935.9" r="6.3"/><circle cx="1504.33" cy="935.7" r="6.3"/><circle cx="1509.24" cy="935.84" r="6.3"/><circle cx="1514.15" cy="935.4" r="6.3"/><circle cx="1519.06" cy="934.84" r="6.3"/><circle cx="1523.97" cy="934.37" r="6.3"/><circle cx="1528.88" cy="934.19" r="6.3"/><circle cx="1533.79" cy="933.84" r="6.3"/><circle cx="1538.7" cy="933.86" r="6.3"/><circle cx="1543.61" cy="933.06" r="6.3"/><circle cx="1548.52" cy="932.99" r="6.3"/><circle cx="1553.43" cy="932.66" r="6.3"/><circle cx="1558.34" cy="932.39" r="6.3"/><circle cx="1563.25" cy="932.22" r="6.3"/><circle cx="1568.16" cy="931.93" r="6.3"/><circle cx="1573.07" cy="932.08" r="6.3"/><circle cx="1577.98" cy="931.35" r="6.3"/><circle cx="1582.89" cy="931.71" r="6.3"/><circle cx="1587.8" cy="930.86" r="6.3"/><circle cx="1592.71" cy="930.63" r="6.3"/><circle cx="1597.62" cy="930.67" r="6.3"/><circle cx="1602.53" cy="930.6" r="6.3"/><circle cx="1607.44" cy="930.42" r="6.3"/><circle cx="1612.35" cy="930.64" r="6.3"/><circle cx="1617.26" cy="930.45" r="6.3"/><circle cx="1622.17" cy="930.1" r="6.3"/><circle cx="1627.08" cy="929.69" r="6.3"/><circle cx="1631.99" cy="929.65" r="6.3"/><circle cx="1636.9" cy="930.07" r="6.3"/><circle cx="1641.81" cy="929.54" r="6.3"/><circle cx="1646.72" cy="928.9" r="6.3"/><circle cx="1651.63" cy="929.02" r="6.3"/><circle cx="1656.54" cy="928.97" r="6.3"/><circle cx="1661.45" cy="929.48" r="6.3"/><circle cx="1666.36" cy="928.96" r="6.3"/><circle cx="1671.27" cy="929.69" r="6.3"/><circle cx="1676.18" cy="929.04" r="6.3"/><circle cx="1681.09" cy="928.75" r="6.3"/><circle cx="1686" cy="928.45" r="6.3"/><circle cx="1690.91" cy="928.82" r="6.3"/><circle cx="1695.82" cy="928.27" r="6.3"/><circle cx="1700.73" cy="927.94" r="6.3"/><circle cx="1705.64" cy="928.3" r="6.3"/><circle cx="1710.55" cy="927.96" r="6.3"/><circle cx="1715.46" cy="928.23" r="6.3"/><circle cx="1720.37" cy="927.64" r="6.3"/><circle cx="1725.28" cy="926.5" r="6.3"/><circle cx="1730.19" cy="927.62" r="6.3"/><circle cx="1735.1" cy="926.52" r="6.3"/><circle cx="1740.01" cy="927.54" r="6.3"/><circle cx="1744.92" cy="927.45" r="6.3"/><circle cx="1749.83" cy="926.47" r="6.3"/><circle cx="1754.74" cy="926" r="6.3"/><circle cx="1759.65" cy="925.69" r="6.3"/><circle cx="1764.56" cy="926.26" r="6.3"/><circle cx="1769.47" cy="925.65" r="6.3"/><circle cx="1774.38" cy="925.27" r="6.3"/><circle cx="1779.29" cy="925.15" r="6.3"/><circle cx="1784.2" cy="925.72" r="6.3"/><circle cx="1789.11" cy="924.87" r="6.3"/><circle cx="1794.02" cy="924.77" r="6.3"/><circle cx="1798.93" cy="924.53" r="6.3"/><circle cx="1803.84" cy="924.37" r="6.3"/><circle cx="1808.75" cy="924.12" r="6.3"/><circle cx="1813.66" cy="923.24" r="6.3"/><circle cx="1818.57" cy="923.13" r="6.3"/><circle cx="1823.48" cy="922.65" r="6.3"/><circle cx="1828.39" cy="922.36" r="6.3"/><circle cx="1833.3" cy="922.68" r="6.3"/><circle cx="1838.21" cy="921.78" r="6.3"/><circle cx="1843.12" cy="921.59" r="6.3"/><circle cx="1848.03" cy="921.03" r="6.3"/><circle cx="1852.94" cy="920.69" r="6.3"/><circle cx="1857.85" cy="920.79" r="6.3"/><circle cx="1862.76" cy="919.94" r="6.3"/><circle cx="1867.67" cy="919.48" r="6.3"/><circle cx="1872.58" cy="919.34" r="6.3"/><circle cx="1877.49" cy="918.82" r="6.3"/><circle cx="1882.4" cy="918.35" r="6.3"/><circle cx="1887.31" cy="917.47" r="6.3"/><circle cx="1892.22" cy="915.98" r="6.3"/><circle cx="1897.13" cy="915.88" r="6.3"/><circle cx="1902.04" cy="914.82" r="6.3"/><circle cx="1906.95" cy="913.92" r="6.3"/><circle cx="1911.86" cy="912.08" r="6.3"/><circle cx="1916.77" cy="911.89" r="6.3"/><circle cx="1921.68" cy="908.99" r="6.3"/><circle cx="1926.59" cy="907.71" r="6.3"/><circle cx="1931.5" cy="905.25" r="6.3"/><circle cx="1936.41" cy="902.73" r="6.3"/><circle cx="1941.32" cy="900.59" r="6.3"/><circle cx="1946.23" cy="897.04" r="6.3"/><circle cx="1951.14" cy="892.28" r="6.3"/><circle cx="1956.05" cy="887.18" r="6.3"/><circle cx="1960.96" cy="879.66" r="6.3"/><circle cx="1965.87" cy="872.13" r="6.3"/><circle cx="1970.78" cy="859.3" r="6.3"/><circle cx="1975.69" cy="843.87" r="6.3"/><circle cx="1980.6" cy="829.71" r="6.3"/><circle cx="1985.51" cy="814.63" r="6.3"/><circle cx="1990.42" cy="798.44" r="6.3"/><circle cx="1995.33" cy="780.25" r="6.3"/><circle cx="2000.24" cy="760.37" r="6.3"/><circle cx="2005.15" cy="739.05" r="6.3"/><circle cx="2010.06" cy="715.58" r="6.3"/><circle cx="2014.97" cy="692" r="6.3"/><circle cx="2019.88" cy="621.85" r="6.3"/><circle cx="2024.79" cy="576.36" r="6.3"/></g><g fill="#fff"><circle cx="1391.4" cy="946.15" r="1.7"/><circle cx="1396.31" cy="945.43" r="1.7"/><circle cx="1401.22" cy="945.94" r="1.7"/><circle cx="1406.13" cy="944.54" r="1.7"/><circle cx="1411.04" cy="944.22" r="1.7"/><circle cx="1415.95" cy="944.28" r="1.7"/><circle cx="1420.86" cy="942.95" r="1.7"/><circle cx="1425.77" cy="942.61" r="1.7"/><circle cx="1430.68" cy="942.43" r="1.7"/><circle cx="1435.59" cy="941.79" r="1.7"/><circle cx="1440.5" cy="941.04" r="1.7"/><circle cx="1445.41" cy="940.92" r="1.7"/><circle cx="1450.32" cy="940.4" r="1.7"/><circle cx="1455.23" cy="940.27" r="1.7"/><circle cx="1460.14" cy="939" r="1.7"/><circle cx="1465.05" cy="938.87" r="1.7"/><circle cx="1469.96" cy="939.06" r="1.7"/><circle cx="1474.87" cy="938.85" r="1.7"/><circle cx="1479.78" cy="937.24" r="1.7"/><circle cx="1484.69" cy="937.57" r="1.7"/><circle cx="1489.6" cy="936.61" r="1.7"/><circle cx="1494.51" cy="936.27" r="1.7"/><circle cx="1499.42" cy="935.9" r="1.7"/><circle cx="1504.33" cy="935.7" r="1.7"/><circle cx="1509.24" cy="935.84" r="1.7"/><circle cx="1514.15" cy="935.4" r="1.7"/><circle cx="1519.06" cy="934.84" r="1.7"/><circle cx="1523.97" cy="934.37" r="1.7"/><circle cx="1528.88" cy="934.19" r="1.7"/><circle cx="1533.79" cy="933.84" r="1.7"/><circle cx="1538.7" cy="933.86" r="1.7"/><circle cx="1543.61" cy="933.06" r="1.7"/><circle cx="1548.52" cy="932.99" r="1.7"/><circle cx="1553.43" cy="932.66" r="1.7"/><circle cx="1558.34" cy="932.39" r="1.7"/><circle cx="1563.25" cy="932.22" r="1.7"/><circle cx="1568.16" cy="931.93" r="1.7"/><circle cx="1573.07" cy="932.08" r="1.7"/><circle cx="1577.98" cy="931.35" r="1.7"/><circle cx="1582.89" cy="931.71" r="1.7"/><circle cx="1587.8" cy="930.86" r="1.7"/><circle cx="1592.71" cy="930.63" r="1.7"/><circle cx="1597.62" cy="930.67" r="1.7"/><circle cx="1602.53" cy="930.6" r="1.7"/><circle cx="1607.44" cy="930.42" r="1.7"/><circle cx="1612.35" cy="930.64" r="1.7"/><circle cx="1617.26" cy="930.45" r="1.7"/><circle cx="1622.17" cy="930.1" r="1.7"/><circle cx="1627.08" cy="929.69" r="1.7"/><circle cx="1631.99" cy="929.65" r="1.7"/><circle cx="1636.9" cy="930.07" r="1.7"/><circle cx="1641.81" cy="929.54" r="1.7"/><circle cx="1646.72" cy="928.9" r="1.7"/><circle cx="1651.63" cy="929.02" r="1.7"/><circle cx="1656.54" cy="928.97" r="1.7"/><circle cx="1661.45" cy="929.48" r="1.7"/><circle cx="1666.36" cy="928.96" r="1.7"/><circle cx="1671.27" cy="929.69" r="1.7"/><circle cx="1676.18" cy="929.04" r="1.7"/><circle cx="1681.09" cy="928.75" r="1.7"/><circle cx="1686" cy="928.45" r="1.7"/><circle cx="1690.91" cy="928.82" r="1.7"/><circle cx="1695.82" cy="928.27" r="1.7"/><circle cx="1700.73" cy="927.94" r="1.7"/><circle cx="1705.64" cy="928.3" r="1.7"/><circle cx="1710.55" cy="927.96" r="1.7"/><circle cx="1715.46" cy="928.23" r="1.7"/><circle cx="1720.37" cy="927.64" r="1.7"/><circle cx="1725.28" cy="926.5" r="1.7"/><circle cx="1730.19" cy="927.62" r="1.7"/><circle cx="1735.1" cy="926.52" r="1.7"/><circle cx="1740.01" cy="927.54" r="1.7"/><circle cx="1744.92" cy="927.45" r="1.7"/><circle cx="1749.83" cy="926.47" r="1.7"/><circle cx="1754.74" cy="926" r="1.7"/><circle cx="1759.65" cy="925.69" r="1.7"/><circle cx="1764.56" cy="926.26" r="1.7"/><circle cx="1769.47" cy="925.65" r="1.7"/><circle cx="1774.38" cy="925.27" r="1.7"/><circle cx="1779.29" cy="925.15" r="1.7"/><circle cx="1784.2" cy="925.72" r="1.7"/><circle cx="1789.11" cy="924.87" r="1.7"/><circle cx="1794.02" cy="924.77" r="1.7"/><circle cx="1798.93" cy="924.53" r="1.7"/><circle cx="1803.84" cy="924.37" r="1.7"/><circle cx="1808.75" cy="924.12" r="1.7"/><circle cx="1813.66" cy="923.24" r="1.7"/><circle cx="1818.57" cy="923.13" r="1.7"/><circle cx="1823.48" cy="922.65" r="1.7"/><circle cx="1828.39" cy="922.36" r="1.7"/><circle cx="1833.3" cy="922.68" r="1.7"/><circle cx="1838.21" cy="921.78" r="1.7"/><circle cx="1843.12" cy="921.59" r="1.7"/><circle cx="1848.03" cy="921.03" r="1.7"/><circle cx="1852.94" cy="920.69" r="1.7"/><circle cx="1857.85" cy="920.79" r="1.7"/><circle cx="1862.76" cy="919.94" r="1.7"/><circle cx="1867.67" cy="919.48" r="1.7"/><circle cx="1872.58" cy="919.34" r="1.7"/><circle cx="1877.49" cy="918.82" r="1.7"/><circle cx="1882.4" cy="918.35" r="1.7"/><circle cx="1887.31" cy="917.47" r="1.7"/><circle cx="1892.22" cy="915.98" r="1.7"/><circle cx="1897.13" cy="915.88" r="1.7"/><circle cx="1902.04" cy="914.82" r="1.7"/><circle cx="1906.95" cy="913.92" r="1.7"/><circle cx="1911.86" cy="912.08" r="1.7"/><circle cx="1916.77" cy="911.89" r="1.7"/><circle cx="1921.68" cy="908.99" r="1.7"/><circle cx="1926.59" cy="907.71" r="1.7"/><circle cx="1931.5" cy="905.25" r="1.7"/><circle cx="1936.41" cy="902.73" r="1.7"/><circle cx="1941.32" cy="900.59" r="1.7"/><circle cx="1946.23" cy="897.04" r="1.7"/><circle cx="1951.14" cy="892.28" r="1.7"/><circle cx="1956.05" cy="887.18" r="1.7"/><circle cx="1960.96" cy="879.66" r="1.7"/><circle cx="1965.87" cy="872.13" r="1.7"/><circle cx="1970.78" cy="859.3" r="1.7"/><circle cx="1975.69" cy="843.87" r="1.7"/><circle cx="1980.6" cy="829.71" r="1.7"/><circle cx="1985.51" cy="814.63" r="1.7"/><circle cx="1990.42" cy="798.44" r="1.7"/><circle cx="1995.33" cy="780.25" r="1.7"/><circle cx="2000.24" cy="760.37" r="1.7"/><circle cx="2005.15" cy="739.05" r="1.7"/><circle cx="2010.06" cy="715.58" r="1.7"/><circle cx="2014.97" cy="692" r="1.7"/><circle cx="2019.88" cy="621.85" r="1.7"/><circle cx="2024.79" cy="576.36" r="1.7"/></g><rect x="1391.4" y="524" width="639" height="475.6" fill="none" stroke="#000" stroke-width="3.4"/><line x1="1489" y1="524" x2="1489" y2="999.6" stroke="#000" stroke-width="3.2"/><line x1="1391.4" y1="660" x2="2030.4" y2="660" stroke="#000" stroke-width="3.2"/><line x1="1390.8" y1="999.6" x2="1390.8" y2="1009.1" stroke="#000" stroke-width="3"/><line x1="1439.9" y1="999.6" x2="1439.9" y2="1004.6" stroke="#000" stroke-width="2.6"/><line x1="1489" y1="999.6" x2="1489" y2="1009.1" stroke="#000" stroke-width="3"/><line x1="1538.1" y1="999.6" x2="1538.1" y2="1004.6" stroke="#000" stroke-width="2.6"/><line x1="1587.2" y1="999.6" x2="1587.2" y2="1009.1" stroke="#000" stroke-width="3"/><line x1="1636.3" y1="999.6" x2="1636.3" y2="1004.6" stroke="#000" stroke-width="2.6"/><line x1="1685.4" y1="999.6" x2="1685.4" y2="1009.1" stroke="#000" stroke-width="3"/><line x1="1734.5" y1="999.6" x2="1734.5" y2="1004.6" stroke="#000" stroke-width="2.6"/><line x1="1783.6" y1="999.6" x2="1783.6" y2="1009.1" stroke="#000" stroke-width="3"/><line x1="1832.7" y1="999.6" x2="1832.7" y2="1004.6" stroke="#000" stroke-width="2.6"/><line x1="1881.8" y1="999.6" x2="1881.8" y2="1009.1" stroke="#000" stroke-width="3"/><line x1="1930.9" y1="999.6" x2="1930.9" y2="1004.6" stroke="#000" stroke-width="2.6"/><line x1="1980" y1="999.6" x2="1980" y2="1009.1" stroke="#000" stroke-width="3"/><line x1="2029.1" y1="999.6" x2="2029.1" y2="1004.6" stroke="#000" stroke-width="2.6"/><line x1="1381.9" y1="524.2" x2="1391.4" y2="524.2" stroke="#000" stroke-width="3"/><line x1="1386.4" y1="592.1" x2="1391.4" y2="592.1" stroke="#000" stroke-width="2.6"/><line x1="1381.9" y1="660" x2="1391.4" y2="660" stroke="#000" stroke-width="3"/><line x1="1386.4" y1="727.9" x2="1391.4" y2="727.9" stroke="#000" stroke-width="2.6"/><line x1="1381.9" y1="795.8" x2="1391.4" y2="795.8" stroke="#000" stroke-width="3"/><line x1="1386.4" y1="863.7" x2="1391.4" y2="863.7" stroke="#000" stroke-width="2.6"/><line x1="1381.9" y1="931.6" x2="1391.4" y2="931.6" stroke="#000" stroke-width="3"/><line x1="1386.4" y1="999.5" x2="1391.4" y2="999.5" stroke="#000" stroke-width="2.6"/><line x1="1574" y1="772.4" x2="1624" y2="772.4" stroke="#ff6d0a" stroke-width="3"/><circle cx="1599" cy="772.4" r="4" fill="#fff" stroke="#ff6d0a" stroke-width="3.6"/><line x1="1574" y1="822.4" x2="1624" y2="822.4" stroke="#1414f0" stroke-width="3"/><circle cx="1599" cy="822.4" r="4" fill="#fff" stroke="#1414f0" stroke-width="3.6"/></g><text x="1390.8" y="1050.5" font-family='"Liberation Sans", sans-serif' font-size="32.3" fill="#000" text-anchor="middle" stroke="#000" stroke-width="0.4">−0.2</text><text x="1489" y="1050.5" font-family='"Liberation Sans", sans-serif' font-size="32.3" fill="#000" text-anchor="middle" stroke="#000" stroke-width="0.4">0.0</text><text x="1587.2" y="1050.5" font-family='"Liberation Sans", sans-serif' font-size="32.3" fill="#000" text-anchor="middle" stroke="#000" stroke-width="0.4">0.2</text><text x="1685.4" y="1050.5" font-family='"Liberation Sans", sans-serif' font-size="32.3" fill="#000" text-anchor="middle" stroke="#000" stroke-width="0.4">0.4</text><text x="1783.6" y="1050.5" font-family='"Liberation Sans", sans-serif' font-size="32.3" fill="#000" text-anchor="middle" stroke="#000" stroke-width="0.4">0.6</text><text x="1881.8" y="1050.5" font-family='"Liberation Sans", sans-serif' font-size="32.3" fill="#000" text-anchor="middle" stroke="#000" stroke-width="0.4">0.8</text><text x="1980" y="1050.5" font-family='"Liberation Sans", sans-serif' font-size="32.3" fill="#000" text-anchor="middle" stroke="#000" stroke-width="0.4">1.0</text><text x="1367.5" y="535.4" font-family='"Liberation Sans", sans-serif' font-size="32.3" fill="#000" text-anchor="end" stroke="#000" stroke-width="0.4">10</text><text x="1367.5" y="671.2" font-family='"Liberation Sans", sans-serif' font-size="32.3" fill="#000" text-anchor="end" stroke="#000" stroke-width="0.4">0</text><text x="1367.5" y="807" font-family='"Liberation Sans", sans-serif' font-size="32.3" fill="#000" text-anchor="end" stroke="#000" stroke-width="0.4">−10</text><text x="1367.5" y="942.8" font-family='"Liberation Sans", sans-serif' font-size="32.3" fill="#000" text-anchor="end" stroke="#000" stroke-width="0.4">−20</text><text x="1704.5" y="1099" font-family='"Liberation Sans", sans-serif' font-size="31.8" fill="#000" text-anchor="middle" stroke="#000" stroke-width="0.4">Voltage (V)</text><text transform="translate(1293 765) rotate(-90)" font-family='"Liberation Sans", sans-serif' font-size="32.3" fill="#000" text-anchor="middle" stroke="#000" stroke-width="0.4">Current density (mA cm<tspan font-size="62%" dy="-0.6em">−2</tspan><tspan dy="0.372em">)</tspan></text><text x="1636" y="781.5" font-family='"Liberation Sans", sans-serif' font-size="31.4" fill="#000" stroke="#000" stroke-width="0.4">Reverse scan</text><text x="1636" y="825.5" font-family='"Liberation Sans", sans-serif' font-size="31.4" fill="#000" stroke="#000" stroke-width="0.4">Forward scan</text>
<text x="2" y="1191" font-family='"Liberation Serif", serif' font-size="80" fill="#000" stroke="#000" stroke-width="0.55">(d)</text><g filter="url(#blur05)"><polygon points="151.7,1491.6 205,1473 568,1450.5 586,1516" fill="url(#topL)"/><ellipse cx="292" cy="1482" rx="40" ry="22" fill="url(#glow)"/><ellipse cx="386" cy="1480" rx="42" ry="26" fill="url(#glow)"/><ellipse cx="470" cy="1480" rx="40" ry="28" fill="url(#glow)"/><ellipse cx="335" cy="1490" rx="60" ry="12" fill="url(#glow)"/><ellipse cx="440" cy="1494" rx="70" ry="12" fill="url(#glow)"/><polygon points="151.7,1491.6 586,1516 581.8,1594.5 152.3,1564.4" fill="url(#slabL)"/><line x1="151.7" y1="1491.6" x2="586" y2="1516" stroke="#b9b4dc" stroke-width="2.2" opacity="0.9"/><line x1="568" y1="1450.5" x2="586" y2="1516" stroke="#a8b4dc" stroke-width="1.6"/><line x1="151.7" y1="1491.6" x2="205" y2="1473" stroke="#aab0d8" stroke-width="1.4"/><polygon points="646.7,1491.6 700,1473 1063,1450.5 1081,1516" fill="url(#topR)"/><polygon points="646.7,1491.6 1081,1516 1076.8,1594.5 647.3,1564.4" fill="url(#slabR)"/><line x1="646.7" y1="1491.6" x2="1081" y2="1516" stroke="#b4cdf3" stroke-width="2.2" opacity="0.9"/><line x1="1063" y1="1450.5" x2="1081" y2="1516" stroke="#a4c0ee" stroke-width="1.6"/><line x1="646.7" y1="1491.6" x2="700" y2="1473" stroke="#a8c2ec" stroke-width="1.4"/><g filter="url(#blur05)"><polygon points="249,1440 274,1436 294,1440 292,1464 276,1472 246,1473" fill="#a6a6a6"/><polygon points="246,1473 276,1472 262.5,1460" fill="#828282" opacity="0.8"/><polygon points="346,1441 388,1440 392,1460 366,1476 342,1475" fill="#a6a6a6"/><polygon points="342,1475 366,1476 356,1462.5" fill="#828282" opacity="0.8"/><polygon points="449,1444 468,1440 469,1476 446,1477" fill="#a6a6a6"/><polygon points="446,1477 469,1476 459,1464" fill="#828282" opacity="0.8"/><polygon points="508,1428 546,1422 550,1442 508,1440" fill="#a6a6a6"/><polygon points="508,1440 550,1442 529,1439" fill="#828282" opacity="0.8"/><polygon points="202,1431 249,1440 206,1465" fill="#dadada"/><polygon points="249,1440 206,1465 243,1489" fill="#a4a4a4"/><polygon points="206,1465 197,1481 243,1489" fill="#7b7b7b"/><polygon points="202,1431 206,1465 197,1481" fill="#c6c6c6"/><line x1="249" y1="1440" x2="206" y2="1465" stroke="#f2f2f2" stroke-width="1.4"/><line x1="206" y1="1465" x2="243" y2="1489" stroke="#8e8e8e" stroke-width="0.8"/><line x1="206" y1="1465" x2="197" y2="1481" stroke="#e6e6e6" stroke-width="1"/><circle cx="202" cy="1431" r="1.5" fill="#e8808e"/><circle cx="249" cy="1440" r="1.5" fill="#e8808e"/><circle cx="206" cy="1465" r="1.5" fill="#e8808e"/><circle cx="197" cy="1481" r="1.5" fill="#e8808e"/><circle cx="243" cy="1489" r="1.5" fill="#e8808e"/><polygon points="298,1433 346,1441 306,1467" fill="#dadada"/><polygon points="346,1441 306,1467 339,1493" fill="#a4a4a4"/><polygon points="306,1467 290,1483 339,1493" fill="#7b7b7b"/><polygon points="298,1433 306,1467 290,1483" fill="#c6c6c6"/><line x1="346" y1="1441" x2="306" y2="1467" stroke="#f2f2f2" stroke-width="1.4"/><line x1="306" y1="1467" x2="339" y2="1493" stroke="#8e8e8e" stroke-width="0.8"/><line x1="306" y1="1467" x2="290" y2="1483" stroke="#e6e6e6" stroke-width="1"/><circle cx="298" cy="1433" r="1.5" fill="#e8808e"/><circle cx="346" cy="1441" r="1.5" fill="#e8808e"/><circle cx="306" cy="1467" r="1.5" fill="#e8808e"/><circle cx="290" cy="1483" r="1.5" fill="#e8808e"/><circle cx="339" cy="1493" r="1.5" fill="#e8808e"/><polygon points="398,1434 449,1444 413,1471" fill="#dadada"/><polygon points="449,1444 413,1471 443,1498" fill="#a4a4a4"/><polygon points="413,1471 390,1487 443,1498" fill="#7b7b7b"/><polygon points="398,1434 413,1471 390,1487" fill="#c6c6c6"/><line x1="449" y1="1444" x2="413" y2="1471" stroke="#f2f2f2" stroke-width="1.4"/><line x1="413" y1="1471" x2="443" y2="1498" stroke="#8e8e8e" stroke-width="0.8"/><line x1="413" y1="1471" x2="390" y2="1487" stroke="#e6e6e6" stroke-width="1"/><circle cx="398" cy="1434" r="1.5" fill="#e8808e"/><circle cx="449" cy="1444" r="1.5" fill="#e8808e"/><circle cx="413" cy="1471" r="1.5" fill="#e8808e"/><circle cx="390" cy="1487" r="1.5" fill="#e8808e"/><circle cx="443" cy="1498" r="1.5" fill="#e8808e"/><polygon points="504,1430 563,1446 530,1475" fill="#dadada"/><polygon points="563,1446 530,1475 554,1502" fill="#a4a4a4"/><polygon points="530,1475 497,1492 554,1502" fill="#7b7b7b"/><polygon points="504,1430 530,1475 497,1492" fill="#c6c6c6"/><line x1="563" y1="1446" x2="530" y2="1475" stroke="#f2f2f2" stroke-width="1.4"/><line x1="530" y1="1475" x2="554" y2="1502" stroke="#8e8e8e" stroke-width="0.8"/><line x1="530" y1="1475" x2="497" y2="1492" stroke="#e6e6e6" stroke-width="1"/><circle cx="504" cy="1430" r="1.5" fill="#e8808e"/><circle cx="563" cy="1446" r="1.5" fill="#e8808e"/><circle cx="530" cy="1475" r="1.5" fill="#e8808e"/><circle cx="497" cy="1492" r="1.5" fill="#e8808e"/><circle cx="554" cy="1502" r="1.5" fill="#e8808e"/><polygon points="292,1384 320,1388 338,1394 340,1424 312,1432 296,1420" fill="#a0a0a0"/><polygon points="296,1420 312,1432 302,1412" fill="#828282" opacity="0.8"/><polygon points="390,1384 416,1386 430,1394 428,1422 406,1430" fill="#a0a0a0"/><polygon points="406,1430 428,1422 409,1407" fill="#828282" opacity="0.8"/><polygon points="498,1384 510,1388 510,1422 500,1428" fill="#a0a0a0"/><polygon points="500,1428 510,1422 504,1407" fill="#828282" opacity="0.8"/><polygon points="246,1340 270,1335 294,1348 292,1378 244,1382" fill="#9e9e9e"/><polygon points="244,1382 292,1378 269,1363" fill="#828282" opacity="0.8"/><polygon points="346,1339 358,1333 388,1342 391,1378 342,1381" fill="#9e9e9e"/><polygon points="342,1381 391,1378 368.5,1362.5" fill="#828282" opacity="0.8"/><polygon points="452,1336 466,1340 470,1378 445,1381" fill="#9e9e9e"/><polygon points="445,1381 470,1378 461,1361" fill="#828282" opacity="0.8"/><polygon points="244,1388 292,1382 254,1414" fill="#dcdcdc"/><polygon points="292,1382 254,1414 312,1431" fill="#a0a0a0"/><polygon points="254,1414 250,1436 312,1431" fill="#808080"/><polygon points="244,1388 254,1414 250,1436" fill="#d0d0d0"/><line x1="292" y1="1382" x2="254" y2="1414" stroke="#f2f2f2" stroke-width="1.4"/><line x1="254" y1="1414" x2="312" y2="1431" stroke="#8e8e8e" stroke-width="0.8"/><line x1="254" y1="1414" x2="250" y2="1436" stroke="#e6e6e6" stroke-width="1"/><circle cx="244" cy="1388" r="1.5" fill="#e8808e"/><circle cx="292" cy="1382" r="1.5" fill="#e8808e"/><circle cx="254" cy="1414" r="1.5" fill="#e8808e"/><circle cx="250" cy="1436" r="1.5" fill="#e8808e"/><circle cx="312" cy="1431" r="1.5" fill="#e8808e"/><polygon points="340,1388 390,1382 358,1415" fill="#dcdcdc"/><polygon points="390,1382 358,1415 406,1431" fill="#a0a0a0"/><polygon points="358,1415 350,1436 406,1431" fill="#808080"/><polygon points="340,1388 358,1415 350,1436" fill="#d0d0d0"/><line x1="390" y1="1382" x2="358" y2="1415" stroke="#f2f2f2" stroke-width="1.4"/><line x1="358" y1="1415" x2="406" y2="1431" stroke="#8e8e8e" stroke-width="0.8"/><line x1="358" y1="1415" x2="350" y2="1436" stroke="#e6e6e6" stroke-width="1"/><circle cx="340" cy="1388" r="1.5" fill="#e8808e"/><circle cx="390" cy="1382" r="1.5" fill="#e8808e"/><circle cx="358" cy="1415" r="1.5" fill="#e8808e"/><circle cx="350" cy="1436" r="1.5" fill="#e8808e"/><circle cx="406" cy="1431" r="1.5" fill="#e8808e"/><polygon points="446,1388 498,1382 471,1416" fill="#dcdcdc"/><polygon points="498,1382 471,1416 510,1436" fill="#a0a0a0"/><polygon points="471,1416 450,1440 510,1436" fill="#808080"/><polygon points="446,1388 471,1416 450,1440" fill="#d0d0d0"/><line x1="498" y1="1382" x2="471" y2="1416" stroke="#f2f2f2" stroke-width="1.4"/><line x1="471" y1="1416" x2="510" y2="1436" stroke="#8e8e8e" stroke-width="0.8"/><line x1="471" y1="1416" x2="450" y2="1440" stroke="#e6e6e6" stroke-width="1"/><circle cx="446" cy="1388" r="1.5" fill="#e8808e"/><circle cx="498" cy="1382" r="1.5" fill="#e8808e"/><circle cx="471" cy="1416" r="1.5" fill="#e8808e"/><circle cx="450" cy="1440" r="1.5" fill="#e8808e"/><circle cx="510" cy="1436" r="1.5" fill="#e8808e"/><polygon points="201,1331 248,1338 205,1358" fill="#dadada"/><polygon points="248,1338 205,1358 242,1387" fill="#a4a4a4"/><polygon points="205,1358 196,1381 242,1387" fill="#7b7b7b"/><polygon points="201,1331 205,1358 196,1381" fill="#c6c6c6"/><line x1="248" y1="1338" x2="205" y2="1358" stroke="#f2f2f2" stroke-width="1.4"/><line x1="205" y1="1358" x2="242" y2="1387" stroke="#8e8e8e" stroke-width="0.8"/><line x1="205" y1="1358" x2="196" y2="1381" stroke="#e6e6e6" stroke-width="1"/><circle cx="201" cy="1331" r="1.5" fill="#e8808e"/><circle cx="248" cy="1338" r="1.5" fill="#e8808e"/><circle cx="205" cy="1358" r="1.5" fill="#e8808e"/><circle cx="196" cy="1381" r="1.5" fill="#e8808e"/><circle cx="242" cy="1387" r="1.5" fill="#e8808e"/><polygon points="296,1330 346,1337 305,1358" fill="#dadada"/><polygon points="346,1337 305,1358 338,1388" fill="#a4a4a4"/><polygon points="305,1358 289,1381 338,1388" fill="#7b7b7b"/><polygon points="296,1330 305,1358 289,1381" fill="#c6c6c6"/><line x1="346" y1="1337" x2="305" y2="1358" stroke="#f2f2f2" stroke-width="1.4"/><line x1="305" y1="1358" x2="338" y2="1388" stroke="#8e8e8e" stroke-width="0.8"/><line x1="305" y1="1358" x2="289" y2="1381" stroke="#e6e6e6" stroke-width="1"/><circle cx="296" cy="1330" r="1.5" fill="#e8808e"/><circle cx="346" cy="1337" r="1.5" fill="#e8808e"/><circle cx="305" cy="1358" r="1.5" fill="#e8808e"/><circle cx="289" cy="1381" r="1.5" fill="#e8808e"/><circle cx="338" cy="1388" r="1.5" fill="#e8808e"/><polygon points="397,1328 452,1333 413,1358" fill="#dadada"/><polygon points="452,1333 413,1358 442,1389" fill="#a4a4a4"/><polygon points="413,1358 390,1380 442,1389" fill="#7b7b7b"/><polygon points="397,1328 413,1358 390,1380" fill="#c6c6c6"/><line x1="452" y1="1333" x2="413" y2="1358" stroke="#f2f2f2" stroke-width="1.4"/><line x1="413" y1="1358" x2="442" y2="1389" stroke="#8e8e8e" stroke-width="0.8"/><line x1="413" y1="1358" x2="390" y2="1380" stroke="#e6e6e6" stroke-width="1"/><circle cx="397" cy="1328" r="1.5" fill="#e8808e"/><circle cx="452" cy="1333" r="1.5" fill="#e8808e"/><circle cx="413" cy="1358" r="1.5" fill="#e8808e"/><circle cx="390" cy="1380" r="1.5" fill="#e8808e"/><circle cx="442" cy="1389" r="1.5" fill="#e8808e"/><polygon points="507,1326 565,1334 530,1358" fill="#dadada"/><polygon points="565,1334 530,1358 555,1390" fill="#a4a4a4"/><polygon points="530,1358 498,1382 555,1390" fill="#7b7b7b"/><polygon points="507,1326 530,1358 498,1382" fill="#c6c6c6"/><line x1="565" y1="1334" x2="530" y2="1358" stroke="#f2f2f2" stroke-width="1.4"/><line x1="530" y1="1358" x2="555" y2="1390" stroke="#8e8e8e" stroke-width="0.8"/><line x1="530" y1="1358" x2="498" y2="1382" stroke="#e6e6e6" stroke-width="1"/><circle cx="507" cy="1326" r="1.5" fill="#e8808e"/><circle cx="565" cy="1334" r="1.5" fill="#e8808e"/><circle cx="530" cy="1358" r="1.5" fill="#e8808e"/><circle cx="498" cy="1382" r="1.5" fill="#e8808e"/><circle cx="555" cy="1390" r="1.5" fill="#e8808e"/><polygon points="744,1440 769,1436 789,1440 787,1464 771,1472 741,1473" fill="#a6a6a6"/><polygon points="741,1473 771,1472 757.5,1460" fill="#828282" opacity="0.8"/><polygon points="841,1441 883,1440 887,1460 861,1476 837,1475" fill="#a6a6a6"/><polygon points="837,1475 861,1476 851,1462.5" fill="#828282" opacity="0.8"/><polygon points="944,1444 963,1440 964,1476 941,1477" fill="#a6a6a6"/><polygon points="941,1477 964,1476 954,1464" fill="#828282" opacity="0.8"/><polygon points="1003,1428 1041,1422 1045,1442 1003,1440" fill="#a6a6a6"/><polygon points="1003,1440 1045,1442 1024,1439" fill="#828282" opacity="0.8"/><polygon points="697,1431 744,1440 701,1465" fill="#dadada"/><polygon points="744,1440 701,1465 738,1489" fill="#a4a4a4"/><polygon points="701,1465 692,1481 738,1489" fill="#7b7b7b"/><polygon points="697,1431 701,1465 692,1481" fill="#c6c6c6"/><line x1="744" y1="1440" x2="701" y2="1465" stroke="#f2f2f2" stroke-width="1.4"/><line x1="701" y1="1465" x2="738" y2="1489" stroke="#8e8e8e" stroke-width="0.8"/><line x1="701" y1="1465" x2="692" y2="1481" stroke="#e6e6e6" stroke-width="1"/><circle cx="697" cy="1431" r="1.5" fill="#e8808e"/><circle cx="744" cy="1440" r="1.5" fill="#e8808e"/><circle cx="701" cy="1465" r="1.5" fill="#e8808e"/><circle cx="692" cy="1481" r="1.5" fill="#e8808e"/><circle cx="738" cy="1489" r="1.5" fill="#e8808e"/><polygon points="793,1433 841,1441 801,1467" fill="#dadada"/><polygon points="841,1441 801,1467 834,1493" fill="#a4a4a4"/><polygon points="801,1467 785,1483 834,1493" fill="#7b7b7b"/><polygon points="793,1433 801,1467 785,1483" fill="#c6c6c6"/><line x1="841" y1="1441" x2="801" y2="1467" stroke="#f2f2f2" stroke-width="1.4"/><line x1="801" y1="1467" x2="834" y2="1493" stroke="#8e8e8e" stroke-width="0.8"/><line x1="801" y1="1467" x2="785" y2="1483" stroke="#e6e6e6" stroke-width="1"/><circle cx="793" cy="1433" r="1.5" fill="#e8808e"/><circle cx="841" cy="1441" r="1.5" fill="#e8808e"/><circle cx="801" cy="1467" r="1.5" fill="#e8808e"/><circle cx="785" cy="1483" r="1.5" fill="#e8808e"/><circle cx="834" cy="1493" r="1.5" fill="#e8808e"/><polygon points="893,1434 944,1444 908,1471" fill="#dadada"/><polygon points="944,1444 908,1471 938,1498" fill="#a4a4a4"/><polygon points="908,1471 885,1487 938,1498" fill="#7b7b7b"/><polygon points="893,1434 908,1471 885,1487" fill="#c6c6c6"/><line x1="944" y1="1444" x2="908" y2="1471" stroke="#f2f2f2" stroke-width="1.4"/><line x1="908" y1="1471" x2="938" y2="1498" stroke="#8e8e8e" stroke-width="0.8"/><line x1="908" y1="1471" x2="885" y2="1487" stroke="#e6e6e6" stroke-width="1"/><circle cx="893" cy="1434" r="1.5" fill="#e8808e"/><circle cx="944" cy="1444" r="1.5" fill="#e8808e"/><circle cx="908" cy="1471" r="1.5" fill="#e8808e"/><circle cx="885" cy="1487" r="1.5" fill="#e8808e"/><circle cx="938" cy="1498" r="1.5" fill="#e8808e"/><polygon points="999,1430 1058,1446 1025,1475" fill="#dadada"/><polygon points="1058,1446 1025,1475 1049,1502" fill="#a4a4a4"/><polygon points="1025,1475 992,1492 1049,1502" fill="#7b7b7b"/><polygon points="999,1430 1025,1475 992,1492" fill="#c6c6c6"/><line x1="1058" y1="1446" x2="1025" y2="1475" stroke="#f2f2f2" stroke-width="1.4"/><line x1="1025" y1="1475" x2="1049" y2="1502" stroke="#8e8e8e" stroke-width="0.8"/><line x1="1025" y1="1475" x2="992" y2="1492" stroke="#e6e6e6" stroke-width="1"/><circle cx="999" cy="1430" r="1.5" fill="#e8808e"/><circle cx="1058" cy="1446" r="1.5" fill="#e8808e"/><circle cx="1025" cy="1475" r="1.5" fill="#e8808e"/><circle cx="992" cy="1492" r="1.5" fill="#e8808e"/><circle cx="1049" cy="1502" r="1.5" fill="#e8808e"/><polygon points="787,1384 815,1388 833,1394 835,1424 807,1432 791,1420" fill="#a0a0a0"/><polygon points="791,1420 807,1432 797,1412" fill="#828282" opacity="0.8"/><polygon points="885,1384 911,1386 925,1394 923,1422 901,1430" fill="#a0a0a0"/><polygon points="901,1430 923,1422 904,1407" fill="#828282" opacity="0.8"/><polygon points="993,1384 1005,1388 1005,1422 995,1428" fill="#a0a0a0"/><polygon points="995,1428 1005,1422 999,1407" fill="#828282" opacity="0.8"/><polygon points="741,1340 765,1335 789,1348 787,1378 739,1382" fill="#9e9e9e"/><polygon points="739,1382 787,1378 764,1363" fill="#828282" opacity="0.8"/><polygon points="841,1339 853,1333 883,1342 886,1378 837,1381" fill="#9e9e9e"/><polygon points="837,1381 886,1378 863.5,1362.5" fill="#828282" opacity="0.8"/><polygon points="947,1336 961,1340 965,1378 940,1381" fill="#9e9e9e"/><polygon points="940,1381 965,1378 956,1361" fill="#828282" opacity="0.8"/><polygon points="739,1388 787,1382 749,1414" fill="#dcdcdc"/><polygon points="787,1382 749,1414 807,1431" fill="#a0a0a0"/><polygon points="749,1414 745,1436 807,1431" fill="#808080"/><polygon points="739,1388 749,1414 745,1436" fill="#d0d0d0"/><line x1="787" y1="1382" x2="749" y2="1414" stroke="#f2f2f2" stroke-width="1.4"/><line x1="749" y1="1414" x2="807" y2="1431" stroke="#8e8e8e" stroke-width="0.8"/><line x1="749" y1="1414" x2="745" y2="1436" stroke="#e6e6e6" stroke-width="1"/><circle cx="739" cy="1388" r="1.5" fill="#e8808e"/><circle cx="787" cy="1382" r="1.5" fill="#e8808e"/><circle cx="749" cy="1414" r="1.5" fill="#e8808e"/><circle cx="745" cy="1436" r="1.5" fill="#e8808e"/><circle cx="807" cy="1431" r="1.5" fill="#e8808e"/><polygon points="835,1388 885,1382 853,1415" fill="#dcdcdc"/><polygon points="885,1382 853,1415 901,1431" fill="#a0a0a0"/><polygon points="853,1415 845,1436 901,1431" fill="#808080"/><polygon points="835,1388 853,1415 845,1436" fill="#d0d0d0"/><line x1="885" y1="1382" x2="853" y2="1415" stroke="#f2f2f2" stroke-width="1.4"/><line x1="853" y1="1415" x2="901" y2="1431" stroke="#8e8e8e" stroke-width="0.8"/><line x1="853" y1="1415" x2="845" y2="1436" stroke="#e6e6e6" stroke-width="1"/><circle cx="835" cy="1388" r="1.5" fill="#e8808e"/><circle cx="885" cy="1382" r="1.5" fill="#e8808e"/><circle cx="853" cy="1415" r="1.5" fill="#e8808e"/><circle cx="845" cy="1436" r="1.5" fill="#e8808e"/><circle cx="901" cy="1431" r="1.5" fill="#e8808e"/><polygon points="941,1388 993,1382 966,1416" fill="#dcdcdc"/><polygon points="993,1382 966,1416 1005,1436" fill="#a0a0a0"/><polygon points="966,1416 945,1440 1005,1436" fill="#808080"/><polygon points="941,1388 966,1416 945,1440" fill="#d0d0d0"/><line x1="993" y1="1382" x2="966" y2="1416" stroke="#f2f2f2" stroke-width="1.4"/><line x1="966" y1="1416" x2="1005" y2="1436" stroke="#8e8e8e" stroke-width="0.8"/><line x1="966" y1="1416" x2="945" y2="1440" stroke="#e6e6e6" stroke-width="1"/><circle cx="941" cy="1388" r="1.5" fill="#e8808e"/><circle cx="993" cy="1382" r="1.5" fill="#e8808e"/><circle cx="966" cy="1416" r="1.5" fill="#e8808e"/><circle cx="945" cy="1440" r="1.5" fill="#e8808e"/><circle cx="1005" cy="1436" r="1.5" fill="#e8808e"/><polygon points="696,1331 743,1338 700,1358" fill="#dadada"/><polygon points="743,1338 700,1358 737,1387" fill="#a4a4a4"/><polygon points="700,1358 691,1381 737,1387" fill="#7b7b7b"/><polygon points="696,1331 700,1358 691,1381" fill="#c6c6c6"/><line x1="743" y1="1338" x2="700" y2="1358" stroke="#f2f2f2" stroke-width="1.4"/><line x1="700" y1="1358" x2="737" y2="1387" stroke="#8e8e8e" stroke-width="0.8"/><line x1="700" y1="1358" x2="691" y2="1381" stroke="#e6e6e6" stroke-width="1"/><circle cx="696" cy="1331" r="1.5" fill="#e8808e"/><circle cx="743" cy="1338" r="1.5" fill="#e8808e"/><circle cx="700" cy="1358" r="1.5" fill="#e8808e"/><circle cx="691" cy="1381" r="1.5" fill="#e8808e"/><circle cx="737" cy="1387" r="1.5" fill="#e8808e"/><polygon points="791,1330 841,1337 800,1358" fill="#dadada"/><polygon points="841,1337 800,1358 833,1388" fill="#a4a4a4"/><polygon points="800,1358 784,1381 833,1388" fill="#7b7b7b"/><polygon points="791,1330 800,1358 784,1381" fill="#c6c6c6"/><line x1="841" y1="1337" x2="800" y2="1358" stroke="#f2f2f2" stroke-width="1.4"/><line x1="800" y1="1358" x2="833" y2="1388" stroke="#8e8e8e" stroke-width="0.8"/><line x1="800" y1="1358" x2="784" y2="1381" stroke="#e6e6e6" stroke-width="1"/><circle cx="791" cy="1330" r="1.5" fill="#e8808e"/><circle cx="841" cy="1337" r="1.5" fill="#e8808e"/><circle cx="800" cy="1358" r="1.5" fill="#e8808e"/><circle cx="784" cy="1381" r="1.5" fill="#e8808e"/><circle cx="833" cy="1388" r="1.5" fill="#e8808e"/><polygon points="892,1328 947,1333 908,1358" fill="#dadada"/><polygon points="947,1333 908,1358 937,1389" fill="#a4a4a4"/><polygon points="908,1358 885,1380 937,1389" fill="#7b7b7b"/><polygon points="892,1328 908,1358 885,1380" fill="#c6c6c6"/><line x1="947" y1="1333" x2="908" y2="1358" stroke="#f2f2f2" stroke-width="1.4"/><line x1="908" y1="1358" x2="937" y2="1389" stroke="#8e8e8e" stroke-width="0.8"/><line x1="908" y1="1358" x2="885" y2="1380" stroke="#e6e6e6" stroke-width="1"/><circle cx="892" cy="1328" r="1.5" fill="#e8808e"/><circle cx="947" cy="1333" r="1.5" fill="#e8808e"/><circle cx="908" cy="1358" r="1.5" fill="#e8808e"/><circle cx="885" cy="1380" r="1.5" fill="#e8808e"/><circle cx="937" cy="1389" r="1.5" fill="#e8808e"/><polygon points="1002,1326 1060,1334 1025,1358" fill="#dadada"/><polygon points="1060,1334 1025,1358 1050,1390" fill="#a4a4a4"/><polygon points="1025,1358 993,1382 1050,1390" fill="#7b7b7b"/><polygon points="1002,1326 1025,1358 993,1382" fill="#c6c6c6"/><line x1="1060" y1="1334" x2="1025" y2="1358" stroke="#f2f2f2" stroke-width="1.4"/><line x1="1025" y1="1358" x2="1050" y2="1390" stroke="#8e8e8e" stroke-width="0.8"/><line x1="1025" y1="1358" x2="993" y2="1382" stroke="#e6e6e6" stroke-width="1"/><circle cx="1002" cy="1326" r="1.5" fill="#e8808e"/><circle cx="1060" cy="1334" r="1.5" fill="#e8808e"/><circle cx="1025" cy="1358" r="1.5" fill="#e8808e"/><circle cx="993" cy="1382" r="1.5" fill="#e8808e"/><circle cx="1050" cy="1390" r="1.5" fill="#e8808e"/></g><circle cx="239" cy="1407" r="7.6" fill="url(#teal)"/><circle cx="329" cy="1408.5" r="7.6" fill="url(#teal)"/><circle cx="444" cy="1402" r="7.6" fill="url(#teal)"/><circle cx="436" cy="1405" r="7.6" fill="url(#teal)"/><circle cx="425" cy="1409.6" r="7.6" fill="url(#teal)"/><circle cx="529" cy="1406" r="7.6" fill="url(#teal)"/><circle cx="529" cy="1413" r="7.6" fill="url(#teal)"/><circle cx="284" cy="1456" r="7.6" fill="url(#teal)"/><circle cx="391" cy="1449" r="7.6" fill="url(#teal)"/><circle cx="377" cy="1458" r="7.6" fill="url(#teal)"/><circle cx="486" cy="1444.4" r="7.6" fill="url(#teal)"/><circle cx="481" cy="1453" r="7.6" fill="url(#teal)"/><circle cx="476" cy="1461.6" r="7.6" fill="url(#teal)"/><circle cx="734" cy="1407" r="7.6" fill="url(#teal)"/><circle cx="824" cy="1408.5" r="7.6" fill="url(#teal)"/><circle cx="939" cy="1402" r="7.6" fill="url(#teal)"/><circle cx="931" cy="1405" r="7.6" fill="url(#teal)"/><circle cx="920" cy="1409.6" r="7.6" fill="url(#teal)"/><circle cx="1024" cy="1406" r="7.6" fill="url(#teal)"/><circle cx="1024" cy="1413" r="7.6" fill="url(#teal)"/><circle cx="779" cy="1456" r="7.6" fill="url(#teal)"/><circle cx="886" cy="1449" r="7.6" fill="url(#teal)"/><circle cx="872" cy="1458" r="7.6" fill="url(#teal)"/><circle cx="981" cy="1444.4" r="7.6" fill="url(#teal)"/><circle cx="976" cy="1453" r="7.6" fill="url(#teal)"/><circle cx="971" cy="1461.6" r="7.6" fill="url(#teal)"/><circle cx="778" cy="1360" r="7.6" fill="url(#teal)"/><circle cx="885" cy="1361" r="7.6" fill="url(#teal)"/><circle cx="871" cy="1359" r="7.6" fill="url(#teal)"/><circle cx="981" cy="1361.5" r="7.6" fill="url(#teal)"/><circle cx="972" cy="1358" r="7.6" fill="url(#teal)"/><circle cx="254.6" cy="1227.6" r="6.6" fill="url(#teal)"/><circle cx="316.5" cy="1211" r="6.6" fill="url(#teal)"/><circle cx="393" cy="1211.5" r="6.6" fill="url(#teal)"/><circle cx="445" cy="1228.7" r="6.6" fill="url(#teal)"/><circle cx="502.7" cy="1216.6" r="6.6" fill="url(#teal)"/><path d="M269.5 1296 C264.5 1289.2 271.5 1284.1 268.5 1277.3 S270.5 1268.8 268.5 1267" fill="none" stroke="#8c8c8c" stroke-width="1.7"/><polygon points="268.5,1261 265.3,1269 271.7,1269" fill="#5a5a5a"/><path d="M281.5 1296 C276.5 1289.2 283.5 1284.1 280.5 1277.3 S282.5 1268.8 280.5 1267" fill="none" stroke="#8c8c8c" stroke-width="1.7"/><polygon points="280.5,1261 277.3,1269 283.7,1269" fill="#5a5a5a"/><path d="M365.5 1293 C360.5 1286.1 367.5 1280.92 364.5 1274.03 S366.5 1265.4 364.5 1263.5" fill="none" stroke="#8c8c8c" stroke-width="1.7"/><polygon points="364.5,1257.5 361.3,1265.5 367.7,1265.5" fill="#5a5a5a"/><path d="M377.5 1293 C372.5 1286.1 379.5 1280.92 376.5 1274.03 S378.5 1265.4 376.5 1263.5" fill="none" stroke="#8c8c8c" stroke-width="1.7"/><polygon points="376.5,1257.5 373.3,1265.5 379.7,1265.5" fill="#5a5a5a"/><path d="M469.5 1299.5 C464.5 1292.6 471.5 1287.42 468.5 1280.53 S470.5 1271.9 468.5 1270" fill="none" stroke="#8c8c8c" stroke-width="1.7"/><polygon points="468.5,1264 465.3,1272 471.7,1272" fill="#5a5a5a"/><path d="M482 1299.5 C477 1292.6 484 1287.42 481 1280.53 S483 1271.9 481 1270" fill="none" stroke="#8c8c8c" stroke-width="1.7"/><polygon points="481,1264 477.8,1272 484.2,1272" fill="#5a5a5a"/><rect x="120.6" y="1149.4" width="992.2" height="529.4" fill="none" stroke="#6c6c6c" stroke-width="2.4"/><line x1="616.6" y1="1149.4" x2="616.6" y2="1678.8" stroke="#4a4a4a" stroke-width="2.2"/><circle cx="449" cy="1711.7" r="6.4" fill="url(#teal)"/><polygon points="659,1701 669,1711 660,1722 650,1712" fill="#b8b8b8"/><polygon points="659,1701 669,1711 659,1712" fill="#e6e6e6"/><polygon points="659,1712 669,1711 660,1722" fill="#6e6e6e"/></g><text x="876.5" y="1252" font-family='"Liberation Sans", sans-serif' font-size="30.5" fill="#000" text-anchor="middle" stroke="#000" stroke-width="1.2">Limited MAI Escape</text><text transform="translate(155 1616) scale(0.91 1)" font-family='"Liberation Sans", sans-serif' font-size="26.5" fill="#f0780c" stroke="#f0780c" stroke-width="1">T<tspan font-size="62%" dy="0.3em">max</tspan><tspan dy="-0.186em"> = 130 °C</tspan></text><text transform="translate(650 1616) scale(0.92 1)" font-family='"Liberation Sans", sans-serif' font-size="26.5" fill="#189ae8" stroke="#189ae8" stroke-width="1">T<tspan font-size="62%" dy="0.3em">max</tspan><tspan dy="-0.186em"> = 90 °C</tspan></text><text transform="translate(153 1663) scale(0.97 1)" font-family='"Liberation Sans", sans-serif' font-size="32" fill="#000" stroke="#000" stroke-width="1.1">High temperature crystallization</text><text transform="translate(639 1663) scale(0.97 1)" font-family='"Liberation Sans", sans-serif' font-size="32" fill="#000" stroke="#000" stroke-width="1.1">Low temperature crystallization</text><text transform="translate(471 1718.5) scale(1.05 1)" font-family='"Liberation Sans", sans-serif' font-size="18.5" fill="#222" stroke="#222" stroke-width="0.5">MA (CH<tspan font-size="66%" dy="0.25em">3</tspan><tspan dy="-0.165em">NH</tspan><tspan font-size="66%" dy="0.25em">3</tspan><tspan dy="-0.165em">)</tspan></text><text transform="translate(687 1718.5) scale(1.06 1)" font-family='"Liberation Sans", sans-serif' font-size="18.5" fill="#222" stroke="#222" stroke-width="0.5">PbI<tspan font-size="66%" dy="0.25em">6</tspan><tspan dy="-0.165em">-octahedra</tspan></text><g filter="url(#blur05)"><path d="M1276.4 1220.3 L1279.37 1220.3 L1282.33 1220.3 L1285.3 1220.3 L1288.27 1220.3 L1291.23 1220.3 L1294.2 1220.3 L1297.17 1220.3 L1300.14 1220.3 L1303.1 1220.3 L1306.07 1220.3 L1309.04 1220.3 L1312 1220.3 L1314.97 1220.3 L1317.94 1220.3 L1320.9 1220.3 L1323.87 1220.3 L1326.84 1220.3 L1329.81 1220.3 L1332.77 1220.3 L1335.74 1220.3 L1338.71 1220.3 L1341.67 1220.3 L1344.64 1220.3 L1347.61 1220.3 L1350.57 1220.3 L1353.54 1220.3 L1356.51 1220.3 L1359.47 1220.3 L1362.44 1220.3 L1365.41 1220.3 L1368.38 1220.3 L1371.34 1220.3 L1374.31 1220.3 L1377.28 1220.3 L1380.24 1220.3 L1383.21 1220.3 L1386.18 1220.3 L1389.14 1220.3 L1392.11 1220.3 L1395.08 1220.3 L1398.04 1220.3 L1401.01 1220.3 L1403.98 1220.3 L1406.95 1220.3 L1409.91 1220.3 L1412.88 1220.3 L1415.85 1220.3 L1418.81 1220.3 L1421.78 1220.3 L1424.75 1220.3 L1427.71 1220.3 L1430.68 1220.3 L1433.65 1220.3 L1436.62 1220.3 L1439.58 1220.3 L1442.55 1220.3 L1445.52 1220.3 L1448.48 1220.3 L1451.45 1220.3 L1454.42 1220.3 L1457.38 1220.3 L1460.35 1220.3 L1463.32 1220.3 L1466.28 1220.3 L1469.25 1220.3 L1472.22 1220.3 L1475.19 1220.3 L1478.15 1220.3 L1481.12 1220.3 L1484.09 1220.3 L1487.05 1220.3 L1490.02 1220.3 L1492.99 1220.3 L1495.95 1220.3 L1498.92 1220.3 L1501.89 1220.3 L1504.85 1220.3 L1507.82 1220.3 L1510.79 1220.3 L1513.76 1220.3 L1516.72 1220.3 L1519.69 1220.3 L1522.66 1220.3 L1525.62 1220.3 L1528.59 1220.3 L1531.56 1220.3 L1534.52 1220.3 L1537.49 1220.3 L1540.46 1220.3 L1543.43 1220.3 L1546.39 1220.3 L1549.36 1220.3 L1552.33 1220.3 L1555.29 1220.3 L1558.26 1220.3 L1561.23 1220.3 L1564.19 1220.3 L1567.16 1220.3 L1570.13 1220.3 L1573.09 1220.3 L1576.06 1220.3 L1579.03 1220.3 L1582 1220.3 L1584.96 1220.3 L1587.93 1220.3 L1590.9 1220.3 L1593.86 1220.3 L1596.83 1220.3 L1599.8 1220.3 L1602.76 1220.3 L1605.73 1220.3 L1608.7 1220.3 L1611.66 1220.3 L1614.63 1220.3 L1617.6 1220.3 L1620.57 1220.3 L1623.53 1220.3 L1626.5 1220.3 L1629.47 1220.3 L1632.43 1220.3 L1635.4 1220.3 L1638.37 1220.3 L1641.33 1220.3 L1644.3 1220.3 L1647.27 1220.3 L1650.24 1220.3 L1653.2 1220.3 L1656.17 1220.3 L1659.14 1220.3 L1662.1 1220.3 L1665.07 1220.3 L1668.04 1220.3 L1671 1220.3 L1673.97 1220.3 L1676.94 1220.3 L1679.9 1220.3 L1682.87 1220.3 L1685.84 1220.3 L1688.81 1220.3 L1691.77 1220.3 L1694.74 1220.3 L1697.71 1220.3 L1700.67 1220.3 L1703.64 1220.3 L1706.61 1220.3 L1709.57 1220.3 L1712.54 1220.3 L1715.51 1220.3 L1718.47 1220.3 L1721.44 1220.3 L1724.41 1220.3 L1727.38 1220.3 L1730.34 1220.3 L1733.31 1220.3 L1736.28 1220.3 L1739.24 1220.3 L1742.21 1220.3 L1745.18 1220.3 L1748.14 1220.3 L1751.11 1220.3 L1754.08 1220.3 L1757.05 1220.3 L1760.01 1220.31 L1762.98 1220.32 L1765.95 1220.32 L1768.91 1220.33 L1771.88 1220.34 L1774.85 1220.36 L1777.81 1220.37 L1780.78 1220.39 L1783.75 1220.4 L1786.71 1220.42 L1789.68 1220.44 L1792.65 1220.46 L1795.62 1220.49 L1798.58 1220.51 L1801.55 1220.54 L1804.52 1220.57 L1807.48 1220.59 L1810.45 1220.63 L1813.42 1220.69 L1816.38 1220.76 L1819.35 1220.85 L1822.32 1220.97 L1825.28 1221.1 L1828.25 1221.24 L1831.22 1221.41 L1834.19 1221.59 L1837.15 1221.79 L1840.12 1222.01 L1843.09 1222.32 L1846.05 1222.76 L1849.02 1223.32 L1851.99 1223.98 L1854.95 1224.69 L1857.92 1225.45 L1860.89 1226.24 L1863.86 1227.17 L1866.82 1228.25 L1869.79 1229.41 L1872.76 1230.62 L1875.72 1231.83 L1878.69 1233.08 L1881.66 1234.4 L1884.62 1235.8 L1887.59 1237.31 L1890.56 1238.93 L1893.52 1240.68 L1896.49 1242.56 L1899.46 1244.61 L1902.43 1246.83 L1905.39 1249.25 L1908.36 1251.91 L1911.33 1254.81 L1914.29 1257.99 L1917.26 1261.5 L1920.23 1265.39 L1923.19 1269.72 L1926.16 1274.54 L1929.13 1280.04 L1932.09 1286.51 L1935.06 1293.76 L1938.03 1301.59 L1941 1309.8 L1943.96 1318.57 L1946.93 1328.04 L1949.9 1338.32 L1952.86 1349.48 L1955.83 1361.61 L1958.8 1374.86 L1961.76 1389.43 L1964.73 1405.53 L1967.7 1423.43 L1970.67 1444.61 L1973.63 1468.73 L1976.6 1494.62 L1979.57 1521.14 L1982.53 1548.4 L1985.5 1577.4" fill="none" stroke="#f0690f" stroke-width="5" stroke-linejoin="round"/><g fill="#fff" stroke="#f0690f" stroke-width="4.3"><circle cx="1276.4" cy="1222.05" r="6.4"/><circle cx="1289.66" cy="1220.01" r="6.4"/><circle cx="1302.92" cy="1219.82" r="6.4"/><circle cx="1316.18" cy="1217.65" r="6.4"/><circle cx="1329.44" cy="1220.29" r="6.4"/><circle cx="1342.7" cy="1219.98" r="6.4"/><circle cx="1355.96" cy="1219.76" r="6.4"/><circle cx="1369.22" cy="1220.62" r="6.4"/><circle cx="1382.48" cy="1220.72" r="6.4"/><circle cx="1395.74" cy="1219.23" r="6.4"/><circle cx="1409" cy="1219.41" r="6.4"/><circle cx="1422.26" cy="1219.82" r="6.4"/><circle cx="1435.52" cy="1220.99" r="6.4"/><circle cx="1448.78" cy="1220.86" r="6.4"/><circle cx="1462.04" cy="1218.99" r="6.4"/><circle cx="1475.3" cy="1219.18" r="6.4"/><circle cx="1488.56" cy="1221.04" r="6.4"/><circle cx="1501.82" cy="1221.87" r="6.4"/><circle cx="1515.08" cy="1220.27" r="6.4"/><circle cx="1528.34" cy="1219.62" r="6.4"/><circle cx="1541.6" cy="1221.4" r="6.4"/><circle cx="1554.86" cy="1219.99" r="6.4"/><circle cx="1568.12" cy="1221.03" r="6.4"/><circle cx="1581.38" cy="1221.85" r="6.4"/><circle cx="1594.64" cy="1220.93" r="6.4"/><circle cx="1607.9" cy="1220.37" r="6.4"/><circle cx="1621.16" cy="1221.03" r="6.4"/><circle cx="1634.42" cy="1219.66" r="6.4"/><circle cx="1647.68" cy="1220.12" r="6.4"/><circle cx="1660.94" cy="1219.73" r="6.4"/><circle cx="1674.2" cy="1220.1" r="6.4"/><circle cx="1687.46" cy="1219.81" r="6.4"/><circle cx="1700.72" cy="1220.11" r="6.4"/><circle cx="1713.98" cy="1219.92" r="6.4"/><circle cx="1727.24" cy="1220.39" r="6.4"/><circle cx="1740.5" cy="1220.36" r="6.4"/><circle cx="1753.76" cy="1220.6" r="6.4"/><circle cx="1767.02" cy="1221.73" r="6.4"/><circle cx="1780.28" cy="1218.84" r="6.4"/><circle cx="1793.54" cy="1221.77" r="6.4"/><circle cx="1806.8" cy="1220.35" r="6.4"/><circle cx="1820.06" cy="1219.65" r="6.4"/><circle cx="1833.32" cy="1221.37" r="6.4"/><circle cx="1846.58" cy="1222.95" r="6.4"/><circle cx="1859.84" cy="1225.96" r="6.4"/><circle cx="1873.1" cy="1230.76" r="6.4"/><circle cx="1886.36" cy="1236.67" r="6.4"/><circle cx="1899.62" cy="1244.72" r="6.4"/><circle cx="1912.88" cy="1256.44" r="6.4"/><circle cx="1926.14" cy="1274.5" r="6.4"/><circle cx="1939.4" cy="1305.34" r="6.4"/><circle cx="1952.66" cy="1348.69" r="6.4"/><circle cx="1965.92" cy="1412.45" r="6.4"/><circle cx="1979.18" cy="1517.69" r="6.4"/></g><path d="M1276.4 1223 L1279.58 1223 L1282.76 1223 L1285.94 1223 L1289.12 1223 L1292.3 1223 L1295.48 1223 L1298.67 1223 L1301.85 1223 L1305.03 1223 L1308.21 1223 L1311.39 1223 L1314.57 1223 L1317.75 1223 L1320.93 1223 L1324.11 1223 L1327.29 1223 L1330.47 1223 L1333.65 1223 L1336.83 1223 L1340.02 1223 L1343.2 1223 L1346.38 1223 L1349.56 1223 L1352.74 1223 L1355.92 1223 L1359.1 1223 L1362.28 1223 L1365.46 1223 L1368.64 1223 L1371.82 1223 L1375 1223 L1378.18 1223 L1381.36 1223 L1384.55 1223 L1387.73 1223 L1390.91 1223 L1394.09 1223 L1397.27 1223 L1400.45 1223 L1403.63 1223 L1406.81 1223 L1409.99 1223 L1413.17 1223 L1416.35 1223 L1419.53 1223 L1422.71 1223 L1425.9 1223 L1429.08 1223 L1432.26 1223 L1435.44 1223 L1438.62 1223 L1441.8 1223 L1444.98 1223 L1448.16 1223 L1451.34 1223 L1454.52 1223 L1457.7 1223 L1460.88 1223 L1464.06 1223 L1467.25 1223 L1470.43 1223 L1473.61 1223 L1476.79 1223 L1479.97 1223 L1483.15 1223 L1486.33 1223 L1489.51 1223 L1492.69 1223 L1495.87 1223 L1499.05 1223 L1502.23 1223 L1505.41 1223 L1508.59 1223 L1511.78 1223 L1514.96 1223 L1518.14 1223 L1521.32 1223 L1524.5 1223 L1527.68 1223 L1530.86 1223 L1534.04 1223 L1537.22 1223 L1540.4 1223 L1543.58 1223 L1546.76 1223 L1549.94 1223 L1553.13 1223 L1556.31 1223 L1559.49 1223 L1562.67 1223 L1565.85 1223 L1569.03 1223 L1572.21 1223 L1575.39 1223 L1578.57 1223 L1581.75 1223 L1584.93 1223 L1588.11 1223 L1591.29 1223 L1594.48 1223 L1597.66 1223 L1600.84 1223 L1604.02 1223 L1607.2 1223 L1610.38 1223 L1613.56 1223 L1616.74 1223 L1619.92 1223 L1623.1 1223 L1626.28 1223 L1629.46 1223 L1632.64 1223 L1635.83 1223 L1639.01 1223 L1642.19 1223 L1645.37 1223 L1648.55 1223 L1651.73 1223 L1654.91 1223 L1658.09 1223 L1661.27 1223 L1664.45 1223 L1667.63 1223 L1670.81 1223 L1673.99 1223 L1677.17 1223 L1680.36 1223 L1683.54 1223 L1686.72 1223 L1689.9 1223 L1693.08 1223 L1696.26 1223 L1699.44 1223 L1702.62 1223 L1705.8 1223 L1708.98 1223 L1712.16 1223 L1715.34 1223 L1718.52 1223 L1721.71 1223 L1724.89 1223 L1728.07 1223 L1731.25 1223 L1734.43 1223 L1737.61 1223 L1740.79 1223 L1743.97 1223 L1747.15 1223 L1750.33 1223 L1753.51 1223 L1756.69 1223 L1759.87 1223 L1763.06 1223 L1766.24 1223 L1769.42 1223 L1772.6 1223 L1775.78 1223 L1778.96 1223 L1782.14 1223 L1785.32 1223 L1788.5 1223 L1791.68 1223 L1794.86 1223 L1798.04 1223 L1801.22 1223 L1804.41 1223 L1807.59 1223 L1810.77 1223.02 L1813.95 1223.08 L1817.13 1223.17 L1820.31 1223.3 L1823.49 1223.46 L1826.67 1223.64 L1829.85 1223.83 L1833.03 1224.04 L1836.21 1224.25 L1839.39 1224.46 L1842.57 1224.69 L1845.75 1224.97 L1848.94 1225.29 L1852.12 1225.63 L1855.3 1225.99 L1858.48 1226.34 L1861.66 1226.67 L1864.84 1227 L1868.02 1227.34 L1871.2 1227.7 L1874.38 1228.09 L1877.56 1228.52 L1880.74 1229 L1883.92 1229.5 L1887.1 1230.02 L1890.29 1230.56 L1893.47 1231.13 L1896.65 1231.73 L1899.83 1232.36 L1903.01 1233.04 L1906.19 1233.75 L1909.37 1234.52 L1912.55 1235.36 L1915.73 1236.28 L1918.91 1237.3 L1922.09 1238.41 L1925.27 1239.66 L1928.45 1241.08 L1931.64 1242.77 L1934.82 1244.68 L1938 1246.71 L1941.18 1248.75 L1944.36 1250.79 L1947.54 1252.94 L1950.72 1255.32 L1953.9 1258.06 L1957.08 1261.4 L1960.26 1265.29 L1963.44 1269.56 L1966.62 1274.06 L1969.8 1278.72 L1972.98 1283.7 L1976.17 1289.12 L1979.35 1295.09 L1982.53 1301.78 L1985.71 1309.3 L1988.89 1317.6 L1992.07 1326.62 L1995.25 1336.39 L1998.43 1347.21 L2001.61 1359.07 L2004.79 1371.92 L2007.97 1385.75 L2011.15 1400.89 L2014.33 1417.44 L2017.52 1435.36 L2020.7 1454.6 L2023.88 1475.85 L2027.06 1499.26 L2030.24 1524.17 L2033.42 1549.93 L2036.6 1577.4" fill="none" stroke="#1996f0" stroke-width="5" stroke-linejoin="round"/><g fill="#fff" stroke="#1996f0" stroke-width="4.3"><circle cx="1276.4" cy="1223.43" r="6.4"/><circle cx="1289.66" cy="1222.39" r="6.4"/><circle cx="1302.92" cy="1223.22" r="6.4"/><circle cx="1316.18" cy="1221.47" r="6.4"/><circle cx="1329.44" cy="1223.68" r="6.4"/><circle cx="1342.7" cy="1221.62" r="6.4"/><circle cx="1355.96" cy="1223" r="6.4"/><circle cx="1369.22" cy="1222.89" r="6.4"/><circle cx="1382.48" cy="1222.27" r="6.4"/><circle cx="1395.74" cy="1225.58" r="6.4"/><circle cx="1409" cy="1222.46" r="6.4"/><circle cx="1422.26" cy="1223.43" r="6.4"/><circle cx="1435.52" cy="1223.99" r="6.4"/><circle cx="1448.78" cy="1221.91" r="6.4"/><circle cx="1462.04" cy="1224.21" r="6.4"/><circle cx="1475.3" cy="1222.89" r="6.4"/><circle cx="1488.56" cy="1223.91" r="6.4"/><circle cx="1501.82" cy="1222.18" r="6.4"/><circle cx="1515.08" cy="1222.07" r="6.4"/><circle cx="1528.34" cy="1224.09" r="6.4"/><circle cx="1541.6" cy="1223.45" r="6.4"/><circle cx="1554.86" cy="1223.12" r="6.4"/><circle cx="1568.12" cy="1223.58" r="6.4"/><circle cx="1581.38" cy="1223.47" r="6.4"/><circle cx="1594.64" cy="1221.96" r="6.4"/><circle cx="1607.9" cy="1221.01" r="6.4"/><circle cx="1621.16" cy="1221.49" r="6.4"/><circle cx="1634.42" cy="1221.39" r="6.4"/><circle cx="1647.68" cy="1221" r="6.4"/><circle cx="1660.94" cy="1222.42" r="6.4"/><circle cx="1674.2" cy="1222.52" r="6.4"/><circle cx="1687.46" cy="1222.96" r="6.4"/><circle cx="1700.72" cy="1223.19" r="6.4"/><circle cx="1713.98" cy="1222.65" r="6.4"/><circle cx="1727.24" cy="1222.77" r="6.4"/><circle cx="1740.5" cy="1223.07" r="6.4"/><circle cx="1753.76" cy="1222.1" r="6.4"/><circle cx="1767.02" cy="1222.36" r="6.4"/><circle cx="1780.28" cy="1223.03" r="6.4"/><circle cx="1793.54" cy="1222.39" r="6.4"/><circle cx="1806.8" cy="1222.49" r="6.4"/><circle cx="1820.06" cy="1223.2" r="6.4"/><circle cx="1833.32" cy="1225.26" r="6.4"/><circle cx="1846.58" cy="1225.34" r="6.4"/><circle cx="1859.84" cy="1226.48" r="6.4"/><circle cx="1873.1" cy="1227.92" r="6.4"/><circle cx="1886.36" cy="1229.89" r="6.4"/><circle cx="1899.62" cy="1232.32" r="6.4"/><circle cx="1912.88" cy="1235.45" r="6.4"/><circle cx="1926.14" cy="1240.03" r="6.4"/><circle cx="1939.4" cy="1247.61" r="6.4"/><circle cx="1952.66" cy="1256.94" r="6.4"/><circle cx="1965.92" cy="1273.05" r="6.4"/><circle cx="1979.18" cy="1294.76" r="6.4"/><circle cx="1992.44" cy="1327.72" r="6.4"/><circle cx="2005.7" cy="1375.76" r="6.4"/><circle cx="2018.96" cy="1443.93" r="6.4"/><circle cx="2032.22" cy="1540.16" r="6.4"/></g><rect x="1276.4" y="1201" width="796.6" height="376.4" fill="none" stroke="#000" stroke-width="5"/><line x1="1342.7" y1="1577.4" x2="1342.7" y2="1572.4" stroke="#000" stroke-width="3.4"/><line x1="1409" y1="1577.4" x2="1409" y2="1568.4" stroke="#000" stroke-width="4"/><line x1="1475.3" y1="1577.4" x2="1475.3" y2="1572.4" stroke="#000" stroke-width="3.4"/><line x1="1541.6" y1="1577.4" x2="1541.6" y2="1568.4" stroke="#000" stroke-width="4"/><line x1="1607.9" y1="1577.4" x2="1607.9" y2="1572.4" stroke="#000" stroke-width="3.4"/><line x1="1674.2" y1="1577.4" x2="1674.2" y2="1568.4" stroke="#000" stroke-width="4"/><line x1="1740.5" y1="1577.4" x2="1740.5" y2="1572.4" stroke="#000" stroke-width="3.4"/><line x1="1806.8" y1="1577.4" x2="1806.8" y2="1568.4" stroke="#000" stroke-width="4"/><line x1="1873.1" y1="1577.4" x2="1873.1" y2="1572.4" stroke="#000" stroke-width="3.4"/><line x1="1939.4" y1="1577.4" x2="1939.4" y2="1568.4" stroke="#000" stroke-width="4"/><line x1="2005.7" y1="1577.4" x2="2005.7" y2="1572.4" stroke="#000" stroke-width="3.4"/><line x1="1276.4" y1="1547.26" x2="1281.4" y2="1547.26" stroke="#000" stroke-width="3.4"/><line x1="1276.4" y1="1517.12" x2="1285.4" y2="1517.12" stroke="#000" stroke-width="4"/><line x1="1276.4" y1="1486.98" x2="1281.4" y2="1486.98" stroke="#000" stroke-width="3.4"/><line x1="1276.4" y1="1456.84" x2="1285.4" y2="1456.84" stroke="#000" stroke-width="4"/><line x1="1276.4" y1="1426.7" x2="1281.4" y2="1426.7" stroke="#000" stroke-width="3.4"/><line x1="1276.4" y1="1396.56" x2="1285.4" y2="1396.56" stroke="#000" stroke-width="4"/><line x1="1276.4" y1="1366.42" x2="1281.4" y2="1366.42" stroke="#000" stroke-width="3.4"/><line x1="1276.4" y1="1336.28" x2="1285.4" y2="1336.28" stroke="#000" stroke-width="4"/><line x1="1276.4" y1="1306.14" x2="1281.4" y2="1306.14" stroke="#000" stroke-width="3.4"/><line x1="1276.4" y1="1276" x2="1285.4" y2="1276" stroke="#000" stroke-width="4"/><line x1="1276.4" y1="1245.86" x2="1281.4" y2="1245.86" stroke="#000" stroke-width="3.4"/><line x1="1276.4" y1="1215.72" x2="1285.4" y2="1215.72" stroke="#000" stroke-width="4"/><line x1="1359" y1="1435.6" x2="1454" y2="1435.6" stroke="#f0690f" stroke-width="5" stroke-linecap="round"/><circle cx="1406.6" cy="1435.6" r="6.6" fill="#fff" stroke="#f0690f" stroke-width="4"/><line x1="1359" y1="1486.4" x2="1454" y2="1486.4" stroke="#1996f0" stroke-width="5" stroke-linecap="round"/><circle cx="1406.6" cy="1486.4" r="6.6" fill="#fff" stroke="#1996f0" stroke-width="4"/></g><text x="1276.4" y="1613.7" font-family='"Liberation Sans", sans-serif' font-size="34.6" fill="#000" text-anchor="middle">0.0</text><text x="1409" y="1613.7" font-family='"Liberation Sans", sans-serif' font-size="34.6" fill="#000" text-anchor="middle">0.2</text><text x="1541.6" y="1613.7" font-family='"Liberation Sans", sans-serif' font-size="34.6" fill="#000" text-anchor="middle">0.4</text><text x="1674.2" y="1613.7" font-family='"Liberation Sans", sans-serif' font-size="34.6" fill="#000" text-anchor="middle">0.6</text><text x="1806.8" y="1613.7" font-family='"Liberation Sans", sans-serif' font-size="34.6" fill="#000" text-anchor="middle">0.8</text><text x="1939.4" y="1613.7" font-family='"Liberation Sans", sans-serif' font-size="34.6" fill="#000" text-anchor="middle">1.0</text><text x="2072" y="1613.7" font-family='"Liberation Sans", sans-serif' font-size="34.6" fill="#000" text-anchor="middle">1.2</text><text x="1266" y="1588.6" font-family='"Liberation Sans", sans-serif' font-size="37.4" fill="#000" text-anchor="end">0</text><text x="1266" y="1528.32" font-family='"Liberation Sans", sans-serif' font-size="37.4" fill="#000" text-anchor="end">4</text><text x="1266" y="1468.04" font-family='"Liberation Sans", sans-serif' font-size="37.4" fill="#000" text-anchor="end">8</text><text x="1266" y="1407.76" font-family='"Liberation Sans", sans-serif' font-size="37.4" fill="#000" text-anchor="end">12</text><text x="1266" y="1347.48" font-family='"Liberation Sans", sans-serif' font-size="37.4" fill="#000" text-anchor="end">16</text><text x="1266" y="1287.2" font-family='"Liberation Sans", sans-serif' font-size="37.4" fill="#000" text-anchor="end">20</text><text x="1266" y="1226.92" font-family='"Liberation Sans", sans-serif' font-size="37.4" fill="#000" text-anchor="end">24</text><text x="1675" y="1659" font-family='"Liberation Sans", sans-serif' font-size="37.9" font-weight="bold" fill="#000" text-anchor="middle">Voltage (V)</text><text transform="translate(1205 1389) rotate(-90)" font-family='"Liberation Sans", sans-serif' font-size="38.8" font-weight="bold" fill="#000" text-anchor="middle">J (mA/cm<tspan font-size="62%" dy="-0.55em">2</tspan><tspan dy="0.341em">)</tspan></text><text x="1466" y="1449" font-family='"Liberation Sans", sans-serif' font-size="40" fill="#000">High-T</text><text x="1466" y="1499.5" font-family='"Liberation Sans", sans-serif' font-size="40" fill="#000">Low-T</text>
</svg></body></html>
